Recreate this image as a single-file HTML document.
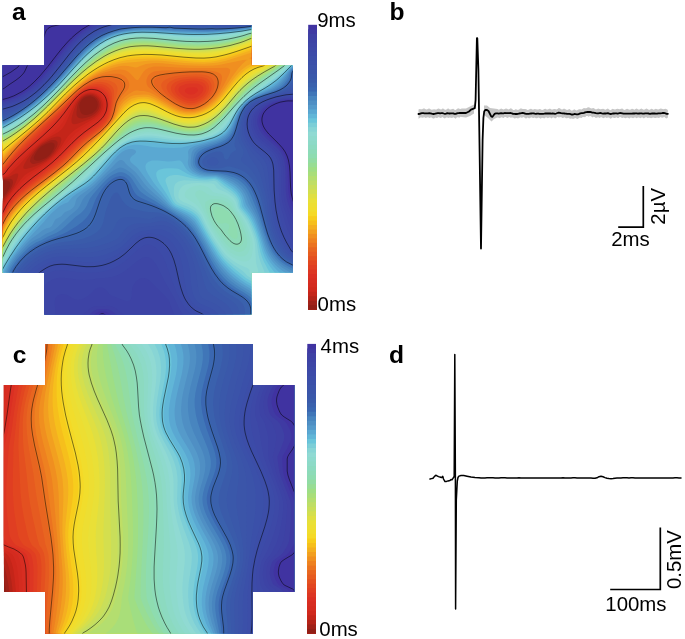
<!DOCTYPE html>
<html><head><meta charset="utf-8"><title>figure</title>
<style>html,body{margin:0;padding:0;background:#fff}svg{display:block}</style></head>
<body>
<svg width="685" height="639" viewBox="0 0 685 639" font-family="'Liberation Sans', Arial, sans-serif">
<clipPath id="ca"><polygon points="44.5,24.9 251.3,24.9 251.3,65.6 292.8,65.6 292.8,272.6 251.3,272.6 251.3,314.2 44.5,314.2 44.5,272.6 2.8,272.6 2.8,65.6 44.5,65.6"/></clipPath>
<g clip-path="url(#ca)">
<polygon points="44.5,24.9 251.3,24.9 251.3,65.6 292.8,65.6 292.8,272.6 251.3,272.6 251.3,314.2 44.5,314.2 44.5,272.6 2.8,272.6 2.8,65.6 44.5,65.6" fill="#911f16"/>
<path d="M0,22 296,22 296,316 0,316 0,202.5 2.7,198 7.1,192 8.3,190 9.3,188 10,186 10.2,184 9.5,182 8,181 6,180.4 4,180.2 2,180.6 0,181.3ZM46,144 42,146.2 40,147.8 37.9,150 36.4,152 34.3,156 33.8,158 34,158.9 34.6,160 36,160.6 38,160.7 40,160.3 44,158.8 46,157.7 48.3,156 50.3,154 51.9,152 54.1,148 54.6,146 54.4,144 54,143.4 52,142.6 50,142.7ZM84,97.9 81.7,100 80.4,102 79.6,104 79.3,106 79.5,108 80.6,112 82,113.9 84,114.8 86,115 88,114.7 90,114.1 92,113.2 93.8,112 96,109.7 97,108 97.6,106 97.7,104 97.3,102 96.3,100 94.6,98 92,96.7 90,96.3 88,96.4 86,96.9Z" fill="#9f2118" fill-rule="evenodd"/>
<path d="M0,22 296,22 296,316 0,316 0,205.6 3,200 10,190 12,186 12.7,184 13,182 12.5,180 12,179.5 10,178.8 4,179 0,179.9ZM54,139.9 52,140 50,140.6 46,142.4 42,144.7 40,146.2 38,148 34.6,152 31.8,156 30.8,158 30.2,160 30.2,162 32,163.7 34,163.9 36,163.6 38,163.1 40,162.4 44,160.5 47.9,158 50.2,156 53.7,152 56.2,148 57.1,146 57.6,144 57.4,142 56,140.4ZM86,95.6 84,96.6 82,98 80.1,100 78.8,102 77.9,104 77.3,106 76.5,112 76.5,114 76.9,116 78,117.4 80,118.3 82,118.4 86,117.8 90,116.5 92,115.5 94,114.2 96.5,112 98.1,110 99,108 99.5,106 99.5,104 99.1,102 98.2,100 96.7,98 94.1,96 92,95.3 90,95 88,95.2Z" fill="#b32318" fill-rule="evenodd"/>
<path d="M0,22 296,22 296,316 0,316 0,208.6 2.2,204 4.5,200 10.3,192 14.1,186 16,182 17.5,178 18.1,176 18.2,174 18,173.7 16,173.5 14,174.3 10.7,176 8,177.1 0,178.9ZM52,137.8 48,139.7 42,143.3 38.5,146 34.5,150 29.5,156 26.7,160 24.4,164 23.6,166 23.3,168 24,168.7 26,168.9 28,168.6 32,167.5 36,166.1 42,163.2 46,160.9 49.8,158 52,156 55.5,152 58.3,148 60.3,144 60.9,142 61.3,140 61,138 60,136.9 58,136.5 56,136.7ZM88,94 86,94.5 84,95.4 82,96.7 80.5,98 78.8,100 77.4,102 76.3,104 73.9,110 72.1,116 71.7,118 71.5,120 71.6,122 72,123.3 73,124 74,124.3 76,124.1 78,123.5 84,121.3 90,118.7 94,116.4 96,114.9 98,113 100.1,110 100.8,108 101.2,106 101.2,104 100.8,102 100,100 98.7,98 96.6,96 94,94.6 92,94 90,93.8Z" fill="#c42519" fill-rule="evenodd"/>
<path d="M0,22 296,22 296,316 0,316 0,211.1 3.5,204 5.9,200 20,180.5 23.9,176 26,174.2 28,172.9 40,166.2 44,163.7 48,161 51.6,158 55.6,154 58.9,150 61.7,146 66,138.9 68,136.2 70,134.1 74,130.6 77.8,128 81,126 92,119.8 94,118.5 97.3,116 99.3,114 100.8,112 102,109.6 102.5,108 102.8,106 102.8,104 102.4,102 101.6,100 100.5,98 98.7,96 96,94.1 94,93.3 92,92.9 90,92.8 88,93 84.7,94 82,95.6 79.3,98 76,102 73.7,106 71.7,110 65.3,124 62.7,128 60.9,130 58.4,132 46,139.1 42,141.9 38,145 32.7,150 20,163.9 9.8,174 7,176 6,176.4 4,177.1 0,177.9Z" fill="#d0281c" fill-rule="evenodd"/>
<path d="M0,22 296,22 296,316 0,316 0,213.1 1.9,210 4.8,204 7.2,200 16,188.6 22,181.7 26,177.8 28.2,176 32,173.3 46,163.9 50,160.9 53.3,158 59.1,152 70,138.9 76,133.1 82.6,128 94,120.6 98,117.5 100,115.6 101.3,114 102.6,112 103.5,110 104,108.2 104.3,106 104.3,104 103.9,102 103.2,100 102.2,98 100.7,96 98,93.8 96,92.8 94,92.1 92,91.8 90,91.7 88,92 86,92.5 84,93.4 82,94.6 80.1,96 78.1,98 74.8,102 72.2,106 62.9,122 60,125.9 58.2,128 53.7,132 42,140.4 35.2,146 28.8,152 14,166.7 10,171 7.6,174 6,175.2 4.5,176 0,177.1Z" fill="#d42b1f" fill-rule="evenodd"/>
<path d="M0,22 296,22 296,316 0,316 0,214.8 2,212 4.8,206 8.5,200 14,193 20,186.3 26,180.6 30,177.3 46,165.6 50,162.5 54,159.1 59.2,154 72,140.2 78.7,134 84,129.7 96,121.3 99.9,118 102,115.6 104.2,112 105,110 105.7,106 105.7,104 105.3,102 104.8,100 103.9,98 102,95.3 100,93.5 98,92.3 96,91.4 94,90.9 92,90.7 90,90.7 88,91 86,91.6 84,92.4 82,93.6 79,96 75.2,100 70.8,106 62,119.2 58,124.4 54.7,128 50.3,132 36,143.7 22.5,156 12,166.4 8.9,170 5.8,174 4,175.2 2,175.8 0,176.2Z" fill="#d72d21" fill-rule="evenodd"/>
<path d="M0,22 296,22 296,316 0,316 0,216.4 3,212 6,205.9 9.8,200 14,194.8 20,188.4 28,181.3 46,167.4 52,162.5 59.2,156 72,143 78,137.3 84,132.2 97.9,122 102,118.1 104,115.4 105.7,112 106.4,110 106.7,108 106.9,104 106.3,100 105.6,98 104.5,96 102.9,94 102,93.1 100,91.7 98,90.7 96,90.1 94,89.7 92,89.5 90,89.7 88,90 86,90.7 84,91.5 82,92.8 78,96 74.2,100 60,118.7 56,123.3 51.5,128 42.9,136 26,150.8 18,158.3 10,166.8 8,169.1 6,172 4.3,174 2,174.9 0,175.3Z" fill="#db2f23" fill-rule="evenodd"/>
<path d="M0,22 296,22 296,316 0,316 0,217.9 4,212 7.1,206 10,201.5 14,196.5 20,190.2 28,183.3 46,169.2 56,160.9 61.4,156 76,141.5 82,136.1 86,132.9 98,124.2 102,120.6 104.1,118 106.3,114 107.6,110 108.1,106 108.2,104 107.7,100 107.2,98 106,95.3 105.2,94 103.3,92 102,91 100,89.9 98,89.1 96,88.6 92,88.4 90,88.6 86,89.8 84,90.7 82,91.9 79.2,94 75.1,98 69.9,104 62,113.8 58,118.2 54,122.3 40.3,136 36.1,140 24,150.8 16,158.5 8,167.4 4,172.7 2,173.9 0,174.3ZM188,87.8 187.2,88 186,88.8 184.8,90 185.2,92 187.8,94 190,94.5 192,94.6 194.4,94 197.1,92 198.1,90 196.8,88 196,87.7 194,87.3 192,87.2Z" fill="#dd3623" fill-rule="evenodd"/>
<path d="M0,22 296,22 296,316 0,316 0,219.5 4,213.6 7,208 10,203.3 14,198.2 20,192 28,185.2 47.5,170 57.1,162 63.6,156 76,143.7 82,138.2 86,135 98,126.4 102,122.8 104,120.6 105.8,118 107.7,114 108.7,110 109.3,104 109.1,100 108.8,98 108.2,96 107.4,94 106,92 104,90 102,88.8 100,88 98,87.4 96,87.1 92,87.2 90,87.5 86,88.9 82,91.1 78.2,94 74.1,98 64,109.7 58,116 45.4,128 33.6,140 24,148.9 18,154.8 10,163.5 4,171 2,172.6 0,173.3ZM188,83.8 186,84.1 182,85.4 180,86.6 178.8,88 178.4,90 179.1,92 180.6,94 184,96.5 186,97.5 188,98.2 190,98.5 192,98.5 194,98.1 196,97.4 198.6,96 200.9,94 202.4,92 203.2,90 203.3,88 202.3,86 200,84.5 198,83.8 196,83.5 192,83.4Z" fill="#e03e22" fill-rule="evenodd"/>
<path d="M0,22 296,22 296,316 0,316 0,221.3 4.6,214 8,208.1 10,205 14,199.9 20,193.7 28,186.8 47.3,172 54.8,166 63.8,158 76,145.7 82,140.1 88,135.4 98,128.2 102,124.8 104,122.7 106,120.2 107.2,118 108.2,116 108.9,114 109.4,112 110.1,108 110.6,102 110.4,98 110.1,96 109.5,94 108.7,92 107.2,90 106,88.8 104,87.4 102,86.5 100,86 98,85.6 94,85.7 90,86.4 88,87.1 84,89 80,91.7 75.2,96 60,112.3 43,128 33.3,138 18,153.1 12,159.6 4,169.3 2,171.2 0,172.1ZM184,81.8 180,83 178,83.9 176,85.7 174.8,88 174.7,90 175.3,92 176.6,94 178,95.4 181.3,98 184,99.5 186,100.3 188,100.8 190,101.1 192,101.1 194,100.8 196,100.2 200,98.1 202,96.5 204.3,94 205.5,92 206.2,90 206.4,88 206,86 204.7,84 204,83.3 202,82.1 200,81.4 198,81 194,80.8 188,81.1Z" fill="#e24620" fill-rule="evenodd"/>
<path d="M0,22 296,22 296,316 0,316 0,223.1 2.9,218 10,206.7 14,201.5 20,195.3 24,191.7 30,186.8 49.5,172 57,166 61.6,162 65.9,158 76,147.6 81.9,142 88,137 98,129.7 102,126.4 104.3,124 106.1,122 108,119 109.4,116 110,114 110.9,110 111.4,106 112,98 111.8,94 111.3,92 110,89.3 109,88 106.5,86 104,84.8 102,84.2 98,83.8 96,83.9 92,84.7 90,85.3 86,87 82,89.5 80,90.9 76.4,94 60,110.9 46,123.5 39.1,130 22,147.3 16,153.6 10,160.4 4,167.8 2,169.7 0,170.9ZM182,79.7 178,80.9 175.5,82 174,83 172.8,84 171.4,86 170.9,88 171.1,90 171.9,92 173.2,94 175,96 177.4,98 180,99.8 184,101.8 188,103 190,103.3 192,103.2 194,102.9 197,102 200,100.5 203.4,98 206,95.3 208,92 208.7,90 209,88 208.9,86 208.2,84 206.8,82 204,80.1 202,79.3 200,78.9 196,78.5 192,78.6 188,78.9Z" fill="#e45020" fill-rule="evenodd"/>
<path d="M0,22 296,22 296,316 0,316 0,225.1 0.6,224 3.9,218 10,208.3 14,203.1 20,196.8 24,193.2 30,188.3 51.6,172 61.3,164 67.8,158 77.4,148 82,143.6 88,138.6 100,129.4 103.8,126 106,123.6 108,120.9 109.7,118 111.1,114 112.6,106 114.1,94 114.1,92 113.8,90 113,88 111.6,86 110,84.7 108,83.5 106,82.7 104,82.2 100,81.8 98,82 94,82.7 92,83.3 88,85 84,87.2 80,90.1 75.5,94 60,109.5 46,122 33.3,134 24,143.5 16,152 10,158.9 4,166.4 2,168.3 0,169.6ZM180,77.8 176,78.8 174,79.5 172,80.4 169.5,82 167.6,84 166.7,86 166.6,88 167.2,90 168.2,92 169.8,94 171.7,96 174,98 176.7,100 180,102 182,103 186,104.5 190,105.2 192,105.1 194,104.8 196.9,104 200,102.6 204,99.9 206.1,98 207.9,96 209.3,94 210.4,92 211.2,90 211.6,88 211.6,86 211.3,84 210.4,82 208.9,80 208,79.3 206,78.1 204,77.4 202,76.9 196,76.4 188,76.7Z" fill="#e65b20" fill-rule="evenodd"/>
<path d="M0,22 296,22 296,316 0,316 0,227.1 2.6,222 4.8,218 10,209.9 14,204.7 20.4,198 24.8,194 30,189.7 53.4,172 60.8,166 67.5,160 78,149.1 82,145.1 86,141.6 100,130.6 104,127 106.8,124 108.3,122 110,119.3 111.5,116 112.2,114 114.5,102 116.8,94 117.5,90 117.5,88 116.9,86 115.5,84 114,82.8 112,81.7 110,80.8 106,79.9 102,79.6 98,80.1 96,80.6 94,81.2 90,82.8 84,86.3 79.1,90 74.5,94 62,106.4 40.3,126 31.8,134 23.8,142 16,150.4 10,157.3 4,165 2,166.9 0,168.2ZM178,75.8 174,76.6 170,77.7 168,78.5 164.9,80 162.5,82 161.4,84 161.2,86 161.8,88 162.8,90 164.2,92 166.1,94 168.2,96 173.4,100 176.4,102 180,104 185,106 188,106.7 190,106.8 194,106.5 198,105.3 202,103.3 204,102 206.4,100 208.5,98 210.2,96 211.6,94 212.8,92 213.6,90 214.1,88 214.4,86 214.3,84 213.8,82 212.9,80 211.3,78 210,77 208.1,76 206,75.3 202,74.6 196,74.3 186,74.8Z" fill="#e86520" fill-rule="evenodd"/>
<path d="M0,22 296,22 296,316 0,316 0,229.2 4.6,220 8.3,214 12,208.7 16,204 22,198 26.5,194 32,189.4 54,172.8 62.4,166 69,160 82.7,146 87.2,142 100,131.7 104,128.1 107.8,124 110.6,120 111.7,118 112.5,116 113.7,112 116,102 118,97.5 122,90 122.9,88 123.4,86 123.2,84 122.1,82 119.4,80 116,78.6 113.8,78 110,77.3 108,77.1 104,77.2 102,77.4 98,78.3 96,78.9 90,81.6 84,85.3 78,90 74,93.6 56.9,110 36,128.9 26.4,138 18.6,146 13.1,152 8.1,158 3.5,164 2,165.5 0,166.8ZM172,74 168,74.5 162,75.8 158,77.1 156.1,78 153.9,80 153.5,82 153.9,84 154.8,86 156.2,88 157.9,90 159.9,92 164.6,96 170.1,100 176,103.8 180,105.9 184,107.4 188,108.2 192,108.3 194,108.1 198,106.9 200,106.1 203.7,104 206.5,102 208.8,100 212.5,96 215.1,92 216.7,88 217.2,86 217.4,84 217.3,82 216.9,80 216.1,78 214.5,76 214,75.6 212,74.3 210,73.5 208,73 204,72.5 200,72.3 194,72.3 182,72.8Z" fill="#eb7320" fill-rule="evenodd"/>
<path d="M0,22 296,22 296,316 0,316 0,231.3 6,219.2 10,212.9 14,207.8 18,203.4 23.5,198 32.9,190 54,174 63.9,166 70.4,160 84.3,146 88.8,142 100,132.7 104,129 108,124.7 111.5,120 113.5,116 114.9,112 116,107.3 118,101.8 120,98.6 122,96 127.3,90 128.6,88 129.2,86 129.2,84 128.8,82 128,80 126,77.4 124,75.7 122,74.7 120,74.1 118,73.8 114,73.7 110,73.9 106,74.5 102,75.3 98,76.5 94,78.1 88,81.5 84,84.2 78,89 51.4,114 27.2,136 21.1,142 15.3,148 8.3,156 4,161.7 2,164 0,165.4ZM154,71.6 152,72.4 149.7,74 148,76 147.1,78 146.5,80 146.4,82 146.7,84 147.6,86 148,86.5 149.4,88 160.8,96 173,104 176.6,106 181.1,108 184,108.9 188,109.6 192,109.7 194,109.4 198,108.3 200,107.6 203.1,106 206,104.2 208.9,102 211.1,100 214.7,96 216.1,94 218.5,90 219.4,88 220.8,84 221.8,80 222,78 221.8,76 220.7,74 220,73.5 218,72.4 216,71.7 212,70.9 208,70.3 200,70.1 162,70.6 158,70.9Z" fill="#ee8120" fill-rule="evenodd"/>
<path d="M0,22 296,22 296,316 0,316 0,233.3 5.5,222 7.8,218 12,211.8 18,204.9 25,198 31.9,192 38,187.1 55.3,174 65.2,166 71.8,160 85.8,146 100,133.6 104,129.9 109.4,124 112.3,120 113.5,118 115.4,114 118,106.2 120,102.4 122,99.8 124,97.8 126,96.1 130,93.2 134,91 136,90.4 138,90.5 140,90.9 144,91.1 146,91.4 150,92.6 154,94.4 173.2,106 177.1,108 180,109.2 184,110.4 188,111 192,111 196,110.3 198,109.7 202,108.1 206,105.9 208.7,104 211.1,102 215.1,98 216.8,96 219.7,92 223.2,86 227.4,78 229.3,74 230,72 230.2,70 230,69.6 228,68.1 226,67.8 216,68 190,67.9 178,67.5 160,66.4 154,66.6 152,66.9 148.4,68 145.2,70 143.3,72 138,80.3 137.5,80 136,79.7 130.7,74 128.5,72 126,70.5 124,69.9 120,69.5 114,70.1 106,72 100,74 94,76.7 88,80.2 82,84.6 77.9,88 72,93.4 50.4,114 21.8,140 12.1,150 6.9,156 2.2,162 0,163.9Z" fill="#f08f20" fill-rule="evenodd"/>
<path d="M0,22 296,22 296,316 0,316 0,235.2 6,223 8,219.3 10,216.2 14,210.9 20.2,204 26.4,198 33.4,192 40.9,186 59.1,172 68.8,164 75.2,158 87.2,146 100,134.5 104.7,130 110,124.2 113.2,120 114.4,118 116.5,114 120,106.2 121.5,104 124,101.1 126,99.4 128,98 130,96.8 132,95.9 134,95.3 136,94.9 144,94.5 148,94.8 150,95.3 154,96.9 158,99 173.5,108 177.9,110 180,110.7 185.3,112 190,112.3 194,111.9 198,111 200.8,110 204,108.5 208,106.1 212,103.1 215.3,100 218.9,96 221.9,92 232,76.9 238,68.8 242,64.3 244,62.4 244.6,62 246,60.5 248.1,60 246,59.7 242.9,60 220,64.7 214,65.4 208,65.7 198,65.8 190,65.6 180,64.9 162,63.3 156,63.1 152,63.2 146,64.1 140.2,66 138,67 136,67.4 134,67.3 128,66 124,65.8 120,66.1 116,66.9 112,67.9 106,69.9 102,71.5 96,74.2 90,77.7 84,81.9 76.6,88 68,96 46,117.3 25,136 16.4,144 8.7,152 2,160.3 0,162.2ZM250,57.8 249.2,58 250,58.7 252,58.7 255.4,58 254,56.9Z" fill="#f29f20" fill-rule="evenodd"/>
<path d="M0,22 296,22 296,316 0,316 0,236.9 6,224.9 10,217.9 12.8,214 16.1,210 23.6,202 28,197.8 34.7,192 60.4,172 70,164 76.5,158 88.6,146 102,133.5 109.3,126 114,120 116.6,116 120,109.8 122.5,106 124,104.3 126,102.4 128,100.9 130,99.6 132,98.6 134,97.9 138,97.1 144,96.7 148,97 150,97.5 154,99 158,101 172,108.9 176,110.8 180,112.2 184,113.1 186,113.4 190,113.5 194,113.2 198.8,112 203.8,110 208,107.7 212,104.8 216,101.3 219.1,98 222.4,94 232,80.8 236,75.8 239.4,72 242,69.5 246,66.4 248,65.2 252,63.5 254,62.9 258,62 260,61.2 261.9,60 263,58 263.1,56 262,54 260,52.7 258,52 256,51.8 254,51.9 250,52.9 238,57.1 226,60.7 218,62.5 214,63.1 204,63.8 194,63.6 184,63 162,60.8 156,60.5 150,60.6 136,62.1 126,62.7 122,63.2 118,64 114,65.1 106,68 98,71.7 94,73.9 90,76.4 84,80.7 77.6,86 66.8,96 46,116.4 36,125.5 21.6,138 15.1,144 7.2,152 2,158.2 0,160.3Z" fill="#f4af20" fill-rule="evenodd"/>
<path d="M0,22 296,22 296,316 0,316 0,238.5 2,235 5.3,228 7.5,224 11.1,218 14,214.1 17.4,210 24.9,202 30,197.3 36.1,192 66.5,168 71.3,164 77.8,158 102,134.5 106.4,130 110.1,126 115,120 122,109.7 124,107.2 126,105.2 130,102.2 132,101 134,100.2 138,99.1 144,98.6 148,99 150,99.5 154,101 158,103 172,110.6 176,112.3 180,113.7 184,114.5 188,114.8 190,114.8 194,114.4 200,112.9 206,110.3 209.9,108 214,104.9 217.1,102 220,99 224,94.3 233.4,82 236.7,78 240,74.4 244,70.7 246,69.2 250,66.8 254,65.1 260,63.6 262,62.8 263.2,62 265,60 266,58 266.2,56 265.6,54 264,52 262,50.8 260,49.9 258,49.6 256,49.5 251.9,50 232,56.7 224,59.1 218,60.4 212,61.4 204,61.9 194,61.7 186,61.1 162,58.8 154,58.4 148,58.4 138,59.1 126,60.3 118,62 111.8,64 106.9,66 102.6,68 95.2,72 88,76.6 80,82.8 71.9,90 66,95.6 45.6,116 36,124.7 20.5,138 11.6,146 5.5,152 0,158.3Z" fill="#f6bf1c" fill-rule="evenodd"/>
<path d="M0,22 296,22 296,316 0,316 0,240 2.3,236 5.2,230 8,224.8 12,218.5 15.3,214 18.7,210 26.3,202 30.5,198 37.4,192 67.7,168 72.5,164 79.1,158 98,139.5 107.2,130 110.9,126 115.9,120 122,112.3 126,107.8 128,106 132,103.3 134.7,102 138,100.9 142,100.4 146,100.5 150,101.3 154,102.9 158,104.8 171.6,112 176,113.8 180,115 184,115.8 190,116 194,115.6 200,114.2 204,112.6 208,110.6 212,108 214.6,106 218,102.9 222,98.6 236,81.2 242,74.8 246,71.5 250,68.8 252,67.8 256,66.2 262,64.6 264,63.5 265.7,62 267.3,60 268.3,58 268.5,56 268.2,54 267,52 264.7,50 262,48.6 260,48 256,47.6 252.9,48 250,48.8 232,54.9 224,57.2 216,59 210,59.8 204,60.2 196,60.1 188,59.6 162,57 154,56.6 146,56.5 138,56.9 128,58 120,59.7 112.9,62 108,64 104,65.9 96,70.3 88,75.5 80,81.8 75.1,86 66,94.5 44.7,116 36,123.9 17,140 10.1,146 5.8,150 0,156.2Z" fill="#f7cd1c" fill-rule="evenodd"/>
<path d="M0,22 296,22 296,316 0,316 0,241.4 3.2,236 6,230.2 8,226.5 10,223.2 13.5,218 19.9,210 27.6,202 31.8,198 38.7,192 68.9,168 80.5,158 90,148.8 102,136.5 111.7,126 124,112.2 128,108.3 132,105.4 134.7,104 138,102.8 142,102.1 146,102.2 150,103.1 154,104.7 172,113.7 176,115.2 180,116.4 184,117.1 190,117.3 196,116.5 202,114.8 206,113 210,110.8 214,108 218,104.5 224,98.1 236,83.3 240,78.9 244,75.1 248,72 252,69.5 256,67.6 262.1,66 264,65.1 265.5,64 267.7,62 269.2,60 270.2,58 270.5,56 270.3,54 269.3,52 267.7,50 266,48.8 264,47.7 262,46.9 258,46.1 256,46 254,46.2 250,47.2 234,52.7 226,55.1 218,57 210,58.2 204,58.6 196,58.5 184,57.6 162,55.5 152,55 144,54.9 138,55.2 130,56 120.6,58 114.4,60 110,61.7 105.1,64 98,67.9 94,70.4 88,74.5 80,80.8 74,86 65.5,94 48,112 40,119.6 30.3,128 6.2,148 4,150 0,154.1Z" fill="#f5d926" fill-rule="evenodd"/>
<path d="M0,22 296,22 296,316 0,316 0,242.8 4,236 8,228.2 10.5,224 14,218.9 17.8,214 21.2,210 24.9,206 30,200.9 35.3,196 42.4,190 70.1,168 81.8,158 90.3,150 96,144.2 120,118.1 124,114.1 128,110.4 132,107.4 136,105.3 140,104.1 144,103.8 146,104 150,104.9 154,106.4 172,115.1 176,116.6 180,117.7 184,118.4 190,118.6 196,117.8 202,116.1 206,114.4 210,112.2 213.3,110 216,107.9 222,102 226,97.4 236,85.1 240,80.7 244,76.9 248,73.7 252,71 254,69.9 256,69 262,67.1 264.5,66 267.2,64 269.4,62 271,60 272,58 272.4,56 272.2,54 271.4,52 270,50 267.7,48 264,46.1 262,45.4 258,44.7 256,44.7 254,44.8 250,45.8 236,50.7 226,53.7 218,55.5 210,56.7 202,57.2 194,57 160.3,54 150,53.5 144,53.5 136,53.9 130,54.6 123,56 116,58.1 108,61.4 104,63.4 99.3,66 90,72 82.2,78 74,85.1 68.7,90 60.6,98 48,111.1 40,118.8 26,130.7 4.5,148 0,152.2Z" fill="#f1dd2c" fill-rule="evenodd"/>
<path d="M0,22 296,22 296,316 0,316 0,244.2 4,237.5 9.1,228 14.4,220 18,215.2 22.4,210 28,204.1 32.2,200 43.6,190 73.8,166 85.5,156 91.8,150 96,145.7 110,129.9 118,121.5 126,113.9 130,110.7 132,109.3 136,107.2 140,105.9 142,105.7 146,105.8 150,106.7 154,108.2 170.9,116 176,117.9 180,119 186,119.9 190,119.9 196,119.2 202,117.5 206,115.8 210,113.6 212.5,112 216,109.3 219.6,106 222,103.5 226,99 236,86.8 240,82.4 244,78.5 248,75.2 252.9,72 256.7,70 264,67.3 266.2,66 268.9,64 271.2,62 272.7,60 273.7,58 274,56 273.9,54 273.2,52 272,50 270,47.9 267,46 264,44.7 260,43.7 256,43.4 254,43.6 251.7,44 238,48.8 226,52.4 218,54.1 210,55.3 202,55.8 194,55.6 184,55 158,52.6 150,52.2 144,52.1 136,52.5 130,53.3 124,54.5 118,56.2 110,59.3 102,63.3 94,68.3 84,75.6 78,80.6 69.9,88 60,97.7 44,114.1 36,121.5 26,129.9 5.2,146 0,150.4Z" fill="#edde32" fill-rule="evenodd"/>
<path d="M0,22 296,22 296,316 0,316 0,245.6 4,238.8 8.8,230 12,224.9 15.5,220 20,214.2 23.7,210 28,205.4 33.5,200 44.9,190 75.1,166 82.3,160 89.2,154 93.4,150 97.3,146 111.1,130 116,124.8 120,120.9 126,115.5 130,112.4 132,111.1 136,109 140,107.8 142,107.5 146,107.6 150,108.5 154,109.9 168,116.1 174,118.5 178,119.8 182,120.7 188,121.3 192,121.2 196,120.6 202,118.9 206,117.2 210,115 214,112.3 216,110.7 219,108 222,105 226,100.5 236.3,88 240,84 244,80.1 248,76.8 254,72.7 258,70.6 264.4,68 270.6,64 272.8,62 274.3,60 275.2,58 275.6,56 275.4,54 274.9,52 274,50.3 272.1,48 270,46.3 266,44.2 264,43.5 260,42.6 256,42.2 252,42.8 240,47 234,49 226,51.2 216,53.2 208,54.2 200,54.5 192,54.3 182,53.6 158,51.4 150,51 144,50.9 136,51.3 130,52 124,53.2 118,55 110,58.2 102,62.3 94,67.3 88,71.6 84,74.7 78,79.7 69,88 60,96.9 44,113.2 36,120.6 30,125.8 22,132.2 3.4,146 0,148.8Z" fill="#e9e037" fill-rule="evenodd"/>
<path d="M0,22 296,22 296,316 0,316 0,246.8 2,243.8 10,229.4 16,220.7 20,215.6 24.9,210 30,204.7 34.8,200 41.5,194 48.6,188 78.9,164 90.6,154 94.9,150 98.8,146 112,130.5 116.2,126 120.3,122 126,117 132,112.8 136,110.8 140,109.6 142,109.3 146,109.5 150,110.3 154,111.6 172,119.1 178,121.1 182,122 188,122.7 192,122.6 196,122 202,120.3 206,118.5 210,116.4 214,113.7 218,110.4 224,104.3 238,87.5 242,83.4 248,78.2 252,75.3 256,72.8 266,68 272.3,64 274.4,62 275.8,60 276.6,58 277,56 276.9,54 276.4,52 275.5,50 274,48 271.8,46 268.5,44 264,42.3 260,41.5 256,41.2 254,41.3 250.7,42 244,44.6 238,46.6 228,49.5 220,51.3 210,52.7 202,53.2 192,53.1 182,52.5 156,50.1 144,49.7 136,50.1 130,50.8 124,52 118,53.8 110,57.1 102,61.2 94,66.3 86,72.2 78,78.9 70,86.3 64,92.1 44,112.4 34,121.5 26,128.2 20,132.9 12,138.7 4.4,144 0,147.3Z" fill="#dfdf42" fill-rule="evenodd"/>
<path d="M0,22 296,22 296,316 0,316 0,248 2,245.1 10,230.8 16,222.1 20.9,216 26,210.1 30,205.9 36,200.1 42.8,194 49.9,188 80.2,164 92,154.1 96,150.4 100.3,146 112.1,132 117.7,126 122,121.9 126,118.6 130,115.6 132,114.4 136,112.5 140,111.4 142,111.2 146,111.3 150,112 154,113.2 172,120.3 178,122.3 182,123.3 188,124 192,124 196,123.4 202,121.7 206,119.9 210,117.7 214,115 218,111.7 224,105.7 235.4,92 238.9,88 244,83 248,79.6 252,76.7 256.1,74 266,68.9 274,64 275.9,62 277.2,60 278,58 278.4,56 278.3,54 278,52.5 277,50 275.7,48 273.7,46 272,44.7 270,43.5 266,41.8 260,40.5 256,40.2 252,40.6 250,41.2 240,45 234,46.8 228,48.4 218,50.5 210,51.5 200,52 190,51.9 180,51.2 158,49.2 150,48.7 144,48.6 138,48.8 132,49.3 126,50.4 120,52 112,55 104,59 96,64 88,69.8 80,76.3 72,83.6 64,91.3 44,111.5 34,120.7 26,127.4 18,133.5 0,145.9Z" fill="#d4df4e" fill-rule="evenodd"/>
<path d="M0,22 296,22 296,316 0,316 0,249.2 2.3,246 10,232.2 16,223.5 20.3,218 25.5,212 30,207.2 36,201.4 44,194.1 48.8,190 58.7,182 81.5,164 91.2,156 95.7,152 99.8,148 103.5,144 113.7,132 119.3,126 126,120.1 130,117.2 132,116 136,114.2 138,113.6 142,113 146,113.1 150,113.7 154,114.8 160,116.9 174,122.3 180,124.1 184,124.9 190,125.4 194,125.1 198,124.4 202,123.1 206,121.3 210,119.1 214,116.3 219.1,112 224.9,106 236,92.7 240,88.3 244,84.4 248,81 252,78 256,75.3 272.6,66 275.5,64 277.3,62 278.5,60 279.3,58 279.7,56 279.7,54 279.3,52 278.5,50 277.3,48 276,46.5 273,44 269.3,42 266,40.8 262,39.8 256,39.2 254,39.3 250.5,40 244,42.6 240,44 234,45.8 228,47.4 218,49.4 208,50.5 198,50.9 188,50.7 180,50.1 158,48.1 152,47.6 144,47.4 138,47.6 132,48.2 126,49.2 120,50.9 112,53.9 104,58 96,63 88,68.8 80,75.5 72,82.8 64,90.6 44,110.7 34,119.9 26,126.6 20,131.2 12,136.8 0,144.6Z" fill="#c9de5a" fill-rule="evenodd"/>
<path d="M0,22 296,22 296,316 0,316 0,250.5 3,246 6.2,240 10,233.5 14,227.5 18,222.2 22,217.3 28,210.6 32,206.5 38.8,200 50.3,190 60.1,182 82,164.7 92.4,156 101.1,148 104.9,144 116,131.3 121.1,126 126,121.7 128,120.1 131.3,118 134,116.7 138,115.3 142,114.8 146,114.8 150,115.4 154,116.4 160,118.4 174,123.5 180,125.3 184,126.1 190,126.7 194,126.5 198,125.7 203.1,124 208,121.6 212,119 216,116 220,112.5 226,106.1 236,94.1 240,89.7 244,85.8 248,82.4 252,79.3 256.8,76 263.5,72 274,66.2 276,64.7 278.6,62 279.8,60 280.6,58 280.9,56 280.9,54 280.6,52 279.9,50 278,47 277.2,46 274.9,44 271.7,42 266.6,40 262,39 256,38.4 252,38.7 250,39.2 244,41.7 240,43.1 234,44.9 228,46.4 218,48.3 208,49.4 198,49.8 188,49.6 180,49.1 158,46.9 146,46.3 140,46.3 134,46.7 128,47.6 122,49.1 118,50.4 114,51.9 106,55.8 98,60.6 92,64.8 88,67.9 82,72.9 74,80.1 64,89.9 48,106 39.7,114 34,119.1 26,125.8 16,133.2 10,137.2 0,143.3Z" fill="#bfde65" fill-rule="evenodd"/>
<path d="M0,22 296,22 296,316 0,316 0,251.8 3.7,246 6.9,240 10,234.7 16,226.1 20,221 26,214.1 36,204 44.8,196 54.2,188 84,164.1 96,153.9 102,148.3 106.2,144 116,133.1 122,126.9 126,123.4 130,120.5 134,118.3 138,117.1 142,116.5 146,116.6 150,117.1 154,118 160,119.8 176,125.4 182,126.9 186,127.6 190,127.9 192,127.9 196,127.5 200,126.5 204,125 208,122.9 212,120.3 216,117.3 220,113.7 226,107.4 240,91.2 244,87.3 248,83.8 252.9,80 258.7,76 265.2,72 275.8,66 278.1,64 279.8,62 281,60 281.8,58 282.1,56 282.2,54 281.9,52 281.2,50 280,47.7 278.7,46 276.7,44 274,42.1 270,40.1 266,38.9 261.5,38 256,37.5 252,37.8 250,38.3 244,40.8 240,42.1 234,43.9 228,45.4 218,47.2 208,48.3 198,48.7 188,48.5 180,48 154,45.5 148,45.2 142,45.1 136,45.4 130,46.1 124,47.3 120,48.5 112,51.6 106,54.7 98,59.6 90,65.4 82,72 74,79.3 66,87.2 47.3,106 38.9,114 34,118.4 24,126.6 16,132.4 10,136.3 0,142.1Z" fill="#b4de6f" fill-rule="evenodd"/>
<path d="M0,22 296,22 296,316 0,316 0,253.1 4,246.8 6.5,242 10,236 12,232.8 16,227.2 20,222.2 26,215.3 32,209.2 38,203.5 46,196.4 55.9,188 82,166.8 92.5,158 103.4,148 122,128.8 126,125.2 130,122.3 134,120.1 138,118.9 142,118.3 146,118.3 150,118.7 156,120 176,126.6 182,128.1 186,128.8 192,129.1 196,128.7 200,127.8 204,126.3 208,124.2 212,121.6 216,118.5 220,114.9 226.7,108 240.8,92 244.8,88 249.5,84 254.7,80 260.5,76 266.9,72 276,66.8 279.4,64 281.1,62 282.2,60 282.9,58 283.3,56 283.3,54 283.1,52 282.5,50 281.5,48 280.2,46 278.4,44 275.8,42 272,39.9 266,38 262,37.3 256,36.8 252,37 250,37.5 244,39.9 240,41.2 234,43 228,44.5 218,46.2 208,47.2 198,47.6 186,47.3 178,46.7 154,44.4 144,43.9 138,44.1 132,44.6 128,45.2 122,46.6 116,48.7 112,50.4 108,52.4 100,57.1 92,62.8 84,69.4 76,76.7 68,84.4 46.6,106 34,117.7 24,125.8 16,131.5 10,135.4 0,141Z" fill="#a9de79" fill-rule="evenodd"/>
<path d="M0,22 296,22 296,316 0,316 0,254.5 4,247.9 7.1,242 10,237.1 16,228.4 20,223.4 24,218.8 30,212.5 36,206.7 48,196.1 93.5,158 102.4,150 122,130.7 126,127.2 130,124.2 134,122 138,120.7 142,120.1 146,120 150,120.3 156,121.5 176,127.8 182,129.2 186,129.9 192,130.3 196,130 200,129.1 204,127.6 208,125.5 212,122.9 216,119.7 220,116.1 226,110 238,96.5 242,92.3 246,88.4 250,85 256,80.3 262.2,76 268.6,72 276,67.7 278.4,66 280.6,64 282.3,62 283.4,60 284.1,58 284.4,56 284.5,54 284,51 282.9,48 281.6,46 280,44.1 277.6,42 274,39.8 269.4,38 264,36.8 258,36.1 254,36 252,36.2 250,36.7 244,39 240,40.4 234,42.1 228,43.5 218,45.2 208,46.2 198,46.6 186,46.3 178,45.7 154,43.3 144,42.8 138,42.9 132,43.4 127.8,44 122,45.4 116,47.5 112,49.2 108,51.2 100,56 92,61.8 86,66.7 78,73.9 68,83.7 46,105.9 34,117 24,125.1 16,130.8 10,134.5 0,140Z" fill="#9fde84" fill-rule="evenodd"/>
<path d="M0,22 296,22 296,316 0,316 0,255.9 2,252.7 10,238.3 16,229.6 20,224.6 26,217.8 30,213.7 36,208.1 44,201 60,187.6 94,158.5 103.4,150 118,136.2 124,130.8 130,126.2 134,124 138,122.6 142,121.9 146,121.7 150,122 154,122.6 158,123.6 172.6,128 180,129.9 186,131 190,131.3 196,131.1 200,130.3 204,128.9 208,126.9 214,122.7 220,117.4 226,111.2 242,93.8 246,89.9 250,86.3 255.5,82 261,78 267,74 276,68.6 279.6,66 281.8,64 283.4,62 284.5,60 285.2,58 285.5,56 285.6,54 285.4,52 284.9,50 284.1,48 283,46 281.4,44 279.3,42 278,41 274,38.8 270,37.3 264.2,36 258,35.4 254,35.3 252,35.5 250,35.9 240,39.5 234,41.2 228,42.5 218,44.2 208,45.2 198,45.5 186,45.2 176,44.4 154,42.1 144,41.6 138,41.7 132,42.2 126,43.2 122,44.2 116,46.3 112,48 108,50 100,54.9 92,60.7 86,65.7 78,73.1 72,78.9 47.3,104 42,109.1 34,116.3 24,124.4 18,128.6 10,133.6 0,138.9Z" fill="#98dd94" fill-rule="evenodd"/>
<path d="M0,22 296,22 296,316 0,316 0,257.3 2,254.2 8,242.9 10,239.5 13.6,234 16,230.8 20,225.8 26,219.1 30,215 36,209.4 46,200.7 62,187.4 86,166.6 100,154.1 114,141.2 122,134.2 128,129.5 132,127 134,126 138,124.5 142,123.7 146,123.4 150,123.6 154,124.1 158,125 172,129.1 178,130.6 184,131.8 190,132.4 196,132.2 200,131.5 204,130.2 208.3,128 214,124 220,118.7 226,112.5 242,95.2 246,91.3 250,87.7 254.6,84 259.9,80 265.6,76 278,68.1 280.8,66 283,64 284.5,62 285.6,60 286.2,58 286.6,56 286.7,54 286.5,52 286.1,50 285.3,48 284.3,46 282,43.1 280.9,42 278.3,40 274.5,38 270,36.4 266,35.5 260,34.8 256,34.6 252,34.8 250,35.2 240,38.6 230,41.2 220,42.9 208,44.1 198,44.4 186,44.1 176,43.3 156,41.2 144,40.5 138,40.6 132,41.1 126,42 122,43 118,44.3 114,45.9 108,48.9 100,53.8 94,58.1 86,64.8 78,72.2 50,100.7 42,108.5 34,115.7 24,123.7 18,127.9 10,132.8 0,137.9Z" fill="#92dca3" fill-rule="evenodd"/>
<path d="M0,22 296,22 296,316 0,316 0,258.7 2,255.8 8,244.2 10,240.8 12,237.6 16,232 20,227 26,220.3 30,216.3 36,210.7 42,205.4 58,192.2 67.7,184 86,167.7 108,147.7 118,139 124,134.2 128,131.4 132,129 134,128 138,126.4 142,125.5 146,125.1 150,125.2 154,125.7 158,126.5 172,130.3 180,132.2 186,133.1 192,133.5 198,133 202,132.1 206,130.5 210,128.2 214,125.3 220,120 226,113.8 240,98.5 246,92.6 250,89 254,85.7 260,81.2 267.3,76 278,69 282.1,66 284,64.2 285.6,62 286.6,60 287.2,58 287.6,56 287.7,54 287.6,52 287.2,50 286.5,48 285.6,46 284.2,44 282.4,42 280,40 276,37.7 271.6,36 266,34.8 260,34.1 256,33.9 252,34.1 250,34.5 240,37.8 234,39.3 228,40.6 218,42.2 208,43.1 198,43.4 186,43 178,42.4 154.2,40 144,39.5 138,39.5 132,40 126,40.9 121.6,42 115.8,44 112,45.7 108,47.7 104,50 100,52.6 94,57.1 86,63.8 80,69.4 72,77.4 50,100.1 42,107.8 34,115 24,122.9 18,127.1 9.9,132 0,137Z" fill="#8edcb0" fill-rule="evenodd"/>
<path d="M0,22 296,22 296,316 0,316 0,260.1 2.8,256 5.7,250 10,242.1 15.4,234 20,228.2 24,223.6 28,219.5 34,213.7 42,206.7 62.3,190 71.6,182 104,152.4 114,143.5 120,138.6 124,135.7 128,133 132,130.8 136,129 140,127.7 144,127 146,126.8 150,126.8 154,127.3 158,128 172,131.6 180,133.3 186,134.2 192,134.5 198,134.1 202,133.2 206,131.7 210,129.5 214,126.7 220,121.4 224,117.3 234.1,106 239.7,100 244,95.7 250,90.3 254,86.9 260,82.4 278,69.9 284,65.3 286,63 287.6,60 288.2,58 288.8,54 288.7,52 288.3,50 287.7,48 286.8,46 285.5,44 284,42.1 281.7,40 278,37.6 274,35.9 268,34.3 262,33.6 256,33.3 252,33.5 249.3,34 244,35.8 240,36.9 228,39.6 216,41.4 208,42 198,42.3 186,42 178,41.4 156,39.1 144,38.5 138,38.5 132,39 126,39.9 122,40.9 118.3,42 114,43.7 108,46.6 104,48.9 100,51.6 94,56 86,62.8 80,68.5 72,76.6 50,99.4 42,107.2 34,114.3 24,122.2 18,126.3 14,128.8 8,132.2 0,136ZM214,207.2 213.4,208 213,210 213.1,212 214,216 216,219.9 218,222.3 220,223.6 222,223.8 224,223.2 226,222.9 228,223.7 228.4,224 229.3,226 229,228 228.3,230 228.1,232 228.9,234 230.3,236 232,237.7 234,238.8 236,239 237.1,238 237.8,236 237.7,234 237.3,232 236,226.8 234,220.6 232.8,218 231.7,216 230,213.6 228,211.6 225.9,210 222.5,208 220,207 218,206.4 216,206.3Z" fill="#8ddbb8" fill-rule="evenodd"/>
<path d="M0,22 296,22 296,316 0,316 0,261.5 3.7,256 6,250.9 10,243.5 12,240.2 16,234.5 20,229.4 24,224.9 28.7,220 35.1,214 46.6,204 63.8,190 73.2,182 103.3,154 114,144.6 120,139.9 124,137 128,134.5 132,132.4 136,130.7 142,129 146,128.5 150,128.5 154,128.8 158,129.6 172,132.9 180,134.4 186,135.2 192,135.5 198,135 202,134.2 204,133.6 207.9,132 211.4,130 216,126.6 220,123 224,118.8 236.9,104 244,96.8 248,93.1 258,85.1 278,70.9 284.4,66 286.3,64 287.6,62 288.6,60 289.2,58 289.8,54 289.4,50 288.8,48 288,46 286,42.9 283.3,40 280,37.7 276,35.7 270,33.9 264,33.1 258,32.8 252,32.9 250,33.2 244,35 238,36.6 228,38.6 216,40.3 204,41.1 196,41.2 186,40.9 178,40.3 154.1,38 144,37.5 138,37.6 132,38 126,38.9 121.5,40 115.5,42 108,45.5 104,47.9 100,50.5 94,55 86,61.9 80,67.6 50.8,98 46,102.7 38,110.1 28,118.4 23.1,122 18,125.4 13.9,128 8,131.3 0,135.1ZM216,202 214,202.1 212,202.7 209.9,204 208.9,206 208.7,208 209,210 210,213.9 212,219.3 214,223.1 218,229 222,234.2 226,239.1 230,243.3 232,244.9 233.8,246 236,246.8 238,246.9 240,246.5 242,245 242.6,244 243.4,242 243.6,240 243.5,238 242.2,232 240.2,226 238.5,222 236.5,218 232,211.3 230,208.8 228,206.8 226,205.3 223.7,204 220,202.7Z" fill="#8cdac0" fill-rule="evenodd"/>
<path d="M0,22 296,22 296,316 0,316 0,262.9 3.4,258 4.6,256 6.4,252 10,245 12,241.7 16,235.9 20,230.8 26,224.1 32.1,218 38,212.6 48,204 74.8,182 84,173.6 100.2,158 114,145.7 122,139.6 126,137 130,134.9 134,133.1 140,131.2 146,130.2 150,130.1 154,130.5 158,131.1 172,134.2 180,135.6 188,136.4 194,136.4 198.1,136 204,134.6 208,133.1 212,131 216.2,128 220.7,124 224.4,120 234.3,108 237.9,104 242,99.7 248,94.2 252,90.9 258,86.3 276,73.3 283.1,68 285.5,66 287.3,64 288.6,62 289.5,60 290.2,58 290.8,54 290.5,50 290,48 289.2,46 288.1,44 286.7,42 284,39.3 282.3,38 280,36.6 276,34.8 273.6,34 270,33.1 264,32.4 258,32.1 252,32.3 250,32.6 240,35.3 228,37.6 216,39.2 208,39.8 198,40.1 186,39.8 178,39.2 156,37.2 148,36.8 142,36.6 136,36.8 130,37.4 126,38 120,39.5 114,41.6 108,44.5 102,48.1 94,54 88,59.1 80,66.7 54,94.1 46,102 37.2,110 28,117.6 18,124.5 8,130.3 0,134.1ZM210,199.6 208,200.2 205.7,202 205.1,204 205.1,206 205.5,208 206.8,212 210,220.2 212,224.3 216,230.8 220,236.4 226,243.9 230,248 232,249.5 234,250.6 236,251.5 238,251.9 240,252 242,251.6 244,250.4 246,247.8 246.7,246 247.1,244 247.2,242 247.1,240 246,234.6 243.7,228 241.1,222 238.8,218 234.7,212 232,207.4 230,204.5 228,202.7 226,201.4 224,200.5 220,199.4 216,199 214,199Z" fill="#8ddac7" fill-rule="evenodd"/>
<path d="M0,22 296,22 296,316 0,316 0,264.5 4.4,258 10,246.7 12,243.4 16,237.5 20.2,232 25.5,226 31.4,220 38,213.8 49.3,204 78.8,180 86,173.3 101.5,158 112.6,148 118,143.6 122,140.8 126,138.3 130,136.2 134,134.6 140,132.8 146,131.9 150,131.8 156,132.4 172,135.5 180,136.8 188,137.4 194,137.3 198,136.9 204,135.7 208.6,134 214,131.1 218.3,128 222,124.5 226,119.9 236.9,106 240.6,102 246,96.9 254,90.4 278,72.9 284,68.3 286.5,66 288.3,64 289.6,62 290.5,60 291.1,58 291.8,54 291.5,50 291.1,48 290,45.3 288,42 286.3,40 284,38 280,35.5 276,33.9 272,32.8 266,31.8 260,31.6 252,31.8 250,32.1 244,33.6 238,34.9 226,36.9 214,38.2 204,38.9 196,39 186,38.8 156,36.3 144,35.8 138,35.9 132,36.3 126,37.2 122,38 115.7,40 112,41.5 108,43.5 102,47.1 96,51.4 90,56.3 84,61.9 76,69.9 54,93.3 46,101.2 36.3,110 28,116.7 18,123.6 8,129.4 0,133.2ZM196,191.9 195.1,194 195.6,196 198,199.5 200,203 204,211.3 210,224.6 212,228.3 216,234.6 224,245.6 227.9,250 230,251.9 233.1,254 236,255.5 238,256.1 240,256.5 242,256.6 244,256.3 246,255.3 248,253.1 249.3,250 249.8,248 250.1,246 250.2,242 249.5,238 247.6,232 244.3,224 240.9,218 235.4,210 232,203 230,200.8 228,199.3 226,198.2 224,197.4 220,196.5 212,195.7 210,195.3 207.2,194 204,191.7 202,190.7 200,190.2 198,190.6Z" fill="#8edacd" fill-rule="evenodd"/>
<path d="M0,22 296,22 296,316 0,316 0,266.2 5.3,258 8.2,252 12,245.2 14,242 18,236.5 23.3,230 28.8,224 34.8,218 41.3,212 54,201.2 75.8,184 82.9,178 88,173.2 103,158 114,148 118,144.8 122,141.9 128,138.5 132,136.8 138,134.9 144,133.8 148,133.6 152,133.7 156,134.1 170,136.6 178,137.7 186,138.4 194,138.3 200,137.6 204,136.6 210,134.5 215,132 217.9,130 220,128.3 224,124.3 228,119.3 236.2,108 239.6,104 244,99.5 250,94.4 254,91.4 274,77 284,69.2 287.5,66 289.3,64 290.5,62 291.4,60 292.5,56 292.8,52 292.2,48 291.5,46 290.6,44 289.3,42 288,40.4 285.5,38 282,35.6 278,33.7 272,32 266,31.2 260,31 252,31.3 247.7,32 242,33.4 230,35.4 218,36.9 206,37.7 196,37.9 186,37.7 156,35.5 148,35.1 142,35 136,35.2 130,35.7 124,36.7 120,37.7 114,39.8 108,42.5 102,46.1 96,50.4 90,55.4 84,60.9 76,69.1 60.4,86 54,92.6 46,100.5 36,109.4 28,115.7 22,120 18,122.6 8,128.4 4,130.4 0,132.2ZM196,185.7 194,186.2 190,187.7 186.8,190 185.4,192 184.7,194 184.9,196 186,197.7 189.1,200 194,202.9 196,204.6 198,206.7 200,209.2 203,214 208,224.6 212.1,232 216,238 222,246.6 226,251.7 228,253.7 230,255.4 234,258.1 238,260.1 240,260.8 242,261.2 244,261.5 246,261.4 248,260.8 249.2,260 250,259.2 250.8,258 251.6,256 252.5,252 252.8,248 252.8,244 252.3,240 251.8,238 249.7,232 246.3,224 242.8,218 237.1,210 236.1,208 234.9,204 234,201.9 232,199.4 230,197.7 228,196.4 226,195.3 222,193.9 216,192.9 214,192.4 213.1,192 212,191.1 209.1,188 208,187.3 204.5,186 202,185.5 200,185.3Z" fill="#90dad3" fill-rule="evenodd"/>
<path d="M0,22 296,22 296,316 0,316 0,268.1 6.3,258 12,247.2 16,241.1 19.8,236 24.8,230 30.2,224 36.2,218 44.9,210 59.2,198 77.7,184 85,178 90,173.2 100.7,162 106.6,156 115.4,148 118,145.9 122,143.1 124,141.8 128,139.7 132,138.1 138,136.5 142,135.8 148,135.4 152,135.6 156,136 170,138.2 178,139.1 186,139.5 194,139.3 200,138.5 206,137.1 212,134.9 217.5,132 220.2,130 224.3,126 228,121.3 237,108 240.4,104 244,100.3 250,95.3 269,82 274,78.3 284,70.1 288.5,66 290.2,64 292.3,60 293.5,56 293.8,52 293.3,48 292.6,46 291.8,44 290.6,42 289,40 286,37.1 282,34.5 278,32.8 274,31.6 268,30.6 260,30.4 252,30.8 242,32.7 230,34.5 218,35.9 206,36.7 196,37 188,36.8 178,36.3 154,34.5 142,34.2 136,34.4 130,35 124,35.9 120,36.9 114,38.9 108,41.6 102,45.1 96,49.4 90,54.4 84,60 76,68.2 60,85.6 54,91.8 46,99.6 36,108.5 26.2,116 18,121.5 6.9,128 0,131.2ZM188,183.9 186,184.4 184,185.2 182.7,186 180.7,188 179.5,190 178.8,192 178.4,194 178.4,196 178.8,198 180,200 183.3,202 190,204.7 194,207.1 196,208.6 198,210.6 200,212.9 202.1,216 207.9,228 212,235.1 218,244.3 222,250.1 224,252.7 227,256 232,260.1 236,262.8 240,264.9 247.3,268 248,268.4 249.6,270 249.5,272 250,272.9 250.7,274 252,274.8 254,275 256,274.6 256.9,274 258.1,272 258.1,270 256.8,266 256,262 255,244 254.4,240 253.8,238 251.7,232 248.3,224 244.8,218 240,211.8 238,208.8 237,206 236.1,202 234,198.6 232,196.5 228,193.6 224,191.5 218,188.9 216.7,188 215.7,186 214,183.9 212,183.5 206,183.5 200,182.9 198,182.9 192,183.3Z" fill="#88d5d5" fill-rule="evenodd"/>
<path d="M0,22 296,22 296,316 0,316 0,270.3 2.4,266 7.3,258 12,249.5 16,243.3 20,237.8 26,230.4 31.8,224 37.7,218 46.3,210 55.6,202 60.6,198 66,193.8 79.8,184 85,180 91.4,174 106.3,158 114.6,150 119.5,146 122,144.3 126,141.9 128,141 132,139.5 136,138.5 140,137.8 146,137.4 150,137.4 154,137.8 168,139.6 176,140.4 186,140.8 192,140.5 200,139.5 206,138.1 212.3,136 218,133.2 222,130.3 224,128.4 226,126.1 230,120.4 235,112 237.8,108 241.1,104 244,101.1 246,99.3 252,94.6 265,86 274,79.6 284,71.2 289.5,66 291.1,64 293.2,60 294.4,56 294.8,52 294.3,48 293,44 291.8,42 290.4,40 288,37.5 286.2,36 284,34.6 280,32.6 278,31.9 274,30.8 268,29.9 260,29.8 252,30.3 242,32 230,33.7 218,35 206,35.8 196,36 188,35.9 176,35.3 154,33.7 142,33.4 136,33.6 130,34.2 124,35.2 120,36.1 114,38 108,40.7 102,44.1 96,48.4 90,53.4 84,59 78,65.2 64,80.5 56,89 48,96.9 40,104.2 32,110.7 22,117.9 16,121.8 10,125.3 4,128.5 0,130.3ZM178,181.7 176,183.2 175.3,184 174.4,186 174,188 173.8,192 173.9,194 174.2,196 174.8,198 175.7,200 177.2,202 178,202.6 180.4,204 188,206.8 192,208.9 196,211.8 198,213.7 200,216.1 201.1,218 206.1,228 212,238.2 220,250.6 224,256 226,258.1 230,261.7 234,264.9 242,270.5 244,272.2 247.7,276 250,277.6 252,278.5 254,279.1 256,279.4 258,279.4 260,279.1 262.5,278 264.1,276 264.5,274 264.4,272 263.8,270 260.5,262 259.3,258 258.4,254 256.6,242 256,239.3 254.9,236 251,226 248,220 245.3,216 240.4,210 239.1,208 238.5,206 237.8,202 237.1,200 236,198.1 234.4,196 232,193.7 230,192.2 222,187 220,185.3 217,182 216,181.3 214,180.7 208,181.4 206,181.4 188,180.4 184,180.3 180,181Z" fill="#7cced7" fill-rule="evenodd"/>
<path d="M0,22 296,22 296,316 0,316 0,272.8 3.5,266 10,255.1 14,248.6 20.1,240 26,232.6 33.5,224 41.4,216 47.8,210 52.3,206 62,198.1 70.3,192 84,182.8 87.5,180 90,177.8 93.9,174 108.1,158 114,152 116.2,150 120,147 122,145.6 126,143.3 130,141.6 134,140.6 138,139.9 144,139.5 152,139.8 166,141.5 174,142.1 182,142.2 192,141.7 198,140.9 206,139.2 214,136.6 219.3,134 222.2,132 224,130.4 226.1,128 230,122.5 234.7,114 237.1,110 240.1,106 244,101.9 250,96.8 256,92.8 266.9,86 274,81 280,76 290.4,66 292,64 294.1,60 295.4,56 295.8,52 295.4,48 294.1,44 293.1,42 291.7,40 290,38 288,36.2 284,33.5 280,31.7 276,30.4 270,29.4 266,29.1 262,29.1 254,29.6 250,30 242,31.5 230,33 218,34.2 206,34.9 196,35.1 188,35 176,34.4 154,32.9 144,32.7 136,32.9 130,33.5 124,34.4 120,35.3 114,37.2 108,39.7 102,43.2 96,47.4 90,52.4 84,58 78,64.2 60.1,84 56,88.2 48,96.1 40,103.3 31.7,110 22,116.9 16,120.8 6,126.6 0,129.3ZM170,175.8 168,176.7 166.3,178 165.5,180 165.7,182 170.8,196 172.6,200 173.9,202 175.7,204 178,205.3 188,209.4 192,211.5 195.3,214 198,216.7 200,219.7 206,231.1 212,241.3 220,253.8 224,258.9 228,263 234,268.2 245.9,278 250,280.6 252,281.5 256,282.7 260,283.4 262,283.6 266,283.4 268,282.8 269.4,282 270.9,280 271.2,278 270.9,276 269.4,272 264,262 262,257.3 260.4,252 257.8,240 256,234.2 254,228.9 250.9,222 248.7,218 246,214.3 240.8,208 240,206 239.4,202 238.9,200 238,197.9 236.8,196 235.2,194 232,191.1 224,185.5 218,180.6 216,179.5 214,179.1 206,179.8 200,179.4 192,178.2 182,175.7 178,175.1 174,175.1Z" fill="#6ac5da" fill-rule="evenodd"/>
<path d="M0,22 296,22 296,45.9 294.3,42 292,38.7 289.3,36 286,33.6 282,31.5 278,30.1 274,29.2 268,28.5 262,28.5 256,28.9 250,29.6 242,30.9 230,32.4 218,33.5 212,33.8 200,34.2 188,34.1 176,33.6 154,32.2 142,32 136,32.2 130,32.7 124,33.6 118,35.1 112,37.1 106,39.9 100,43.5 94,47.9 88,53.1 82,59 74,67.5 60,83.1 55.4,88 48,95.2 40,102.3 30,110.3 20,117.3 16,119.8 6,125.6 0,128.4ZM295.8,58 296,57.3 296,316 0,316 0,275.9 2.6,270 5.9,264 12,254.1 18,245.4 24,237.5 31.9,228 39.3,220 47.3,212 56.4,204 66.8,196 72.6,192 85.2,184 90.3,180 94.5,176 98.2,172 112,156 115.9,152 118,150.2 120.7,148 123.7,146 127.8,144 132,142.8 136,142.1 140,141.9 145.2,142 162,143.7 170,144.2 176,144.4 182,144.2 192,143.1 204,140.8 212,138.6 218.4,136 221.7,134 224,132.2 226,130.2 228,127.7 230,124.6 232,121 236.7,112 239.3,108 242.6,104 246,100.7 250,97.5 256,93.6 270,85.4 276,81.1 282,75.5 291.3,66 292.9,64 294.1,62ZM160,169.4 158,170.4 156.6,172 156.2,174 156.4,176 157,178 157.7,180 159.9,184 165.3,192 171.4,202 173,204 175.3,206 178,207.3 186,210.7 190,212.8 194,215.6 196.5,218 198,220 199.2,222 208,237.7 218,254.1 222,259.6 228,266 234,271.5 242,278.1 244.6,280 247.7,282 252,284.2 256,285.7 262,287.7 268,289.2 272,289.9 274,290.1 276,289.9 278,289.4 279.9,288 280.9,286 281,284 280.6,282 279.8,280 277.2,276 270,266.4 267.1,262 264.9,258 262.6,252 258.2,236 256,229.9 253.6,224 251.7,220 249.4,216 247.9,214 243,208 242,206.2 240.7,200 240,198 238,194.4 236,192 232,188.5 219.9,180 216,178.2 214,177.9 208,178.4 204,178.3 200,177.9 196,177.1 192.3,176 190,175.1 187.7,174 180,169.6 178,168.8 176,168.4 172,168.2 168,168.3 164,168.6Z" fill="#61b6d7" fill-rule="evenodd"/>
<path d="M0,22 296,22 296,43 294.3,40 292,37.1 288.4,34 285.1,32 282,30.6 278,29.3 274,28.4 268,27.8 264,27.8 258,28.2 236,31.1 224,32.3 212,33.1 200,33.4 188,33.3 176,32.8 154,31.4 142,31.3 136,31.5 130,32 124,32.9 118,34.3 112,36.2 106,38.9 100,42.5 94,46.9 88,52 82,57.9 74,66.5 62,80 54.5,88 46.1,96 40,101.4 30,109.4 20,116.4 16,118.9 6,124.7 0,127.4ZM296,60 296,316 0,316 0,279.5 3.9,270 6,266 10,259.3 14,253.4 22,242.8 28,235.5 38,224 45.5,216 49.5,212 56.2,206 62,201.5 72.4,194 86,185.7 92,181.1 95.2,178 99,174 104.3,168 114,156.4 118.3,152 122,149.1 123.6,148 126,146.8 128,145.9 130,145.4 134,144.8 136,144.7 140,144.9 147.3,146 152,146.9 158,147.6 174,147.9 178,147.8 182,147.4 195.2,144 200,143 210,140.4 216,138.4 220,136.6 224,133.9 226,132.1 228,129.7 230,126.7 232,123.1 237.4,112 240,108 243.3,104 247.6,100 252,96.8 258,93.3 270,86.9 272,85.7 276,82.8 278,81.1 282,77.2 288.3,70 292.2,66 295,62ZM150,161.2 148,162.1 146.1,164 145.4,166 145.6,168 146.1,170 148.1,174 153.2,182 156.2,186 162,192.8 169,202 170.7,204 172.8,206 176,208.1 184.5,212 188.3,214 192,216.5 194,218.3 195.6,220 198,223.4 210,244.2 217.2,256 222,262.6 228,269.1 232,272.9 236,276.3 240.7,280 246,283.6 250,285.8 263,292 272,296.6 276,298.4 278,299.1 280,299.6 282,299.8 284,299.7 286,299 288,297.5 289.1,296 290,294 290.4,292 290.5,290 290,286 288.4,282 287.2,280 285.6,278 278,271.2 274,267.1 270,262 267.5,258 265.5,254 264,250.2 259,234 256.1,226 254,220.9 252,217 250.1,214 245.5,208 244.3,206 243.6,204 242.7,200 241.2,196 240.1,194 238.6,192 236.8,190 234,187.5 229,184 222.7,180 218,177.7 216,177.1 214,176.9 206,177.1 202,176.8 198,175.9 192.9,174 189.6,172 187.3,170 185.6,168 182,162 180,160.6 178,160.5 172,161.2 168,161.4 158,160.5 154,160.4 152,160.6Z" fill="#5aa8d2" fill-rule="evenodd"/>
<path d="M0,22 296,22 296,40.6 294,37.8 292.4,36 290.1,34 287.1,32 284,30.4 280,29 276,28 272,27.4 268,27.2 260,27.4 234,30.7 224,31.6 212,32.4 200,32.7 188,32.5 176,32 154,30.7 142,30.6 134,30.9 128,31.6 122,32.6 116,34.1 110,36.2 106,38 102.4,40 96,44.2 90,49.1 86,52.7 80,58.8 62.9,78 54,87.5 44,97 34,105.4 26,111.4 16,118 6,123.8 4,124.8 0,126.4ZM295.9,62 296,61.8 296,286.8 294,282 291.3,278 289.5,276 288,274.8 280,269.1 276,265.5 272,260.9 268.7,256 266.7,252 265,248 259.9,232 257.7,226 255.4,220 254,217.1 252,213.5 247,206 246,204 243.4,196 242,193.3 239.6,190 236,186.5 232.6,184 225.8,180 220,177.2 216,176.1 214,175.9 208,176 204,175.7 200,174.9 196,173.5 193.4,172 192,170.9 191,170 189.4,168 188.5,166 188,164 187.8,162 188.4,158 188.4,156 188,152 188.6,150 190.5,148 194.6,146 201.3,144 212,141.1 216,139.8 220,138.1 224,135.6 226,133.9 227.7,132 230,128.9 232,125.3 236.2,116 238.2,112 240.7,108 244,104 248,100.4 252,97.5 258,94.1 270.9,88 274.3,86 276.9,84 280,81.2 284,76.8 289.2,70 293.1,66 294.6,64ZM125.6,150 128,149.3 130,149 132,149.1 135.2,150 136.2,152 134.7,154 132,156 130.3,158 129.8,160 130.8,162 132,163.2 136,166.4 138,168.4 140,170.9 146.5,180 149.6,184 153.2,188 160,194.8 168.4,204 170.5,206 174,208.6 184,213.7 187.9,216 190.7,218 194,221.1 196,223.7 198,226.7 212,250.9 216.4,258 219.2,262 222,265.6 228,272.2 234,277.7 239.7,282 245.9,286 256.6,292 259.8,294 265.4,298 276,306.6 280,309.1 284,310.8 286,311.2 288,311.3 290,311 292,310.2 294,308.7 296,305.9 296,316 0,316 0,283.8 3.6,274 6,268.7 10,261.6 14,255.8 20,248.1 26,240.9 43.8,222 48.9,216 52,212.8 59.8,206 64,203.7 68,202.3 71.4,198 73.7,196 76.4,194 88,186.8 92,183.7 96,180.1 101.8,174 109,166 114,159.9 118,155.5 122,152.1Z" fill="#559aca" fill-rule="evenodd"/>
<path d="M0,22 296,22 296,38.7 293.8,36 291.7,34 288,31.5 284,29.5 280,28.1 276,27.2 272,26.7 268,26.5 260,26.9 242,29.3 234,30.2 216,31.5 206,31.9 190,31.7 176,31.3 154,30 142,29.9 134,30.2 128,30.9 122,31.8 116,33.3 110,35.3 104,38.1 98,41.8 92.3,46 86,51.6 80,57.6 62,77.9 54,86.4 46.2,94 40,99.5 30,107.6 20,114.6 14,118.4 8,121.8 4,123.9 0,125.5ZM295.6,64 296,63.3 296,278.4 294.1,276 292,273.9 289.4,272 282,267.5 278,264.3 273.9,260 272,257.5 270,254.4 268,250.6 266,245.9 259.3,226 256,217.3 254,213.2 248.7,204 246.6,198 244.9,194 242.4,190 240.7,188 238,185.4 233.3,182 228,179.2 222,176.7 218,175.5 216,175.1 208,174.8 204,174.5 200,173.4 196.7,172 194,170 192.3,168 191.2,166 190.7,164 190.6,162 191.5,154 192,152 193.1,150 195.5,148 200,146 212,142.5 218,140.4 222,138.5 224,137.2 226,135.7 228,133.7 230.7,130 232.7,126 236.9,116 238.9,112 241.4,108 244.7,104 246.8,102 250,99.4 254,97 258,94.9 269.6,90 273.8,88 278,85.2 281.3,82 284,78.9 286,76.2 288.6,72 290.1,70 293.9,66ZM121.6,160 122,160 124,161.6 126,164 128.1,166 133,170 136,172.8 138.6,176 144.6,184 148.2,188 152.6,192 160,198.4 168.2,206 170.7,208 174,210.2 181.1,214 186,216.9 190,219.9 192,221.8 195.4,226 198,229.9 203.9,240 212,254.2 215.5,260 220,266.3 224,271.1 230,277.2 235.9,282 241.8,286 251.8,292 254.8,294 259.8,298 263.8,302 272,311.9 275.7,316 0,316 0,289.3 3.6,278 6.9,270 10.1,264 12.7,260 16,255.6 22,248.4 26,244 30,240 32,238.3 38,234 42,230.7 44,229.4 46,228.6 50,227.4 51.9,226 53,224 54,221.8 55.1,220 56,219.1 60,217.1 61.5,216 64,212.9 65.1,212 70,209.9 72.7,208 74.3,206 75.1,204 76.1,200 77.2,198 79.2,196 90,188.3 94,185 98,181.1 106,172.9 111.2,168 116,163.1 118,161.3 120,160.1Z" fill="#4f8fc4" fill-rule="evenodd"/>
<path d="M0,22 296,22 296,36.9 294,34.7 292,33 290,31.6 286,29.4 282,27.8 278,26.8 274,26.1 270,25.8 266,25.8 260,26.3 244,28.6 232,29.8 220,30.7 208,31.2 194,31 176,30.5 152,29.2 144,29.1 138,29.3 132,29.7 124,30.8 120,31.5 114,33.1 108,35.3 102,38.3 96,42.1 92,45.1 88.6,48 84,52.3 78.5,58 62,76.7 54,85.3 45.1,94 40,98.6 34,103.6 25.5,110 16,116.3 6,122 2,123.8 0,124.5ZM294.9,66 296,64.6 296,274 293.8,272 292,270.7 284,266.2 280,263.3 276,259.5 274,257.1 271.9,254 269.6,250 267,244 258.9,220 256.5,214 251.6,204 247.5,194 245.2,190 242,186 238,182.5 234,180 229.7,178 224.3,176 218,174.4 206,173.5 202,172.6 200,171.9 196.8,170 194.8,168 193.6,166 193,164 192.8,162 193.2,158 194.2,154 195.2,152 196.9,150 200,148.1 202,147.3 205.5,146 216,142.7 220,141.1 224,139 226,137.5 228,135.7 230,133.3 232,130 234,125.7 237.7,116 239.6,112 242.1,108 243.6,106 246,103.4 250,100.1 256,96.6 264,93.2 272.6,90 276.5,88 279.4,86 282,83.6 285.1,80 286.5,78 289.6,72 290.9,70ZM118.5,168 120,167.6 122,167.8 124,168.4 126,169.5 130,172.2 132.1,174 134,176 135.6,178 141.3,186 143,188 147.3,192 158,199.9 168.3,208 172,210.6 181.4,216 184.4,218 187.1,220 190,222.5 193.1,226 196,230 202,239.8 211,256 214,261.1 218,267.1 221.9,272 227.5,278 232.1,282 237.7,286 250.5,294 255.4,298 257.4,300 260.5,304 262.9,308 267.4,316 0,316 0,296.5 2.2,288 5.3,278 8,271 10,267 11.8,264 16,258.1 20,253.4 26,247 30,243.3 32,241.8 36,239.4 40,237.7 44,234.9 46,233.8 52,231.2 54,230.1 56.7,228 69.3,216 76.6,210 78,208.5 79.7,206 82.5,200 83.9,198 85.6,196 94,188.5 104,178.3 108,174.6 112,171.5 116,169.1Z" fill="#4885bf" fill-rule="evenodd"/>
<path d="M0,22 296,22 296,35.3 294,33.3 292,31.7 289.3,30 285.1,28 282,26.9 278,25.9 274,25.4 270,25.1 266,25.2 262,25.5 250,27.3 238,28.8 228,29.6 216,30.3 208,30.4 196,30.3 174,29.6 170,29.1 166,29.2 156,28.6 142,28.5 134,28.8 128,29.4 120,30.7 114,32.3 110,33.6 106,35.2 100.7,38 94,42.4 88,47.3 84,51 78,57.2 62,75.5 54,84.2 44,94 34,102.7 24,110.2 15.1,116 8.1,120 4,122.1 0,123.5ZM295.9,66 296,65.9 296,271 292,268.3 286,265.2 281.4,262 278,258.9 276,256.6 274,254 272,250.9 270,247.1 267.8,242 265,234 258.6,214 251.2,196 249.3,192 248.2,190 246,186.8 244,184.5 241.3,182 238,179.6 234,177.5 228,175.4 220,173.5 216,173 208,172.5 204.7,172 202,171.1 199.7,170 197.2,168 195.8,166 195.1,164 194.8,162 194.9,160 195.3,158 196,155.9 196.9,154 198,152.5 200,150.7 202,149.5 205.2,148 218,143.6 222,141.8 226,139.5 228,137.8 229.7,136 232,132.7 233.4,130 238.5,116 240.4,112 242.8,108 246.1,104 250,100.7 252,99.4 256,97.3 262,94.8 270.3,92 275.4,90 279.1,88 281.8,86 284,83.9 287.1,80 288.3,78 290.6,72 291.8,70ZM114.4,174 118,172.6 120,172.2 122,172.3 124,172.8 126,173.7 128,175 130,176.8 132,179.1 138,188.5 140,191 142,192.8 146.5,196 156,201.6 168.5,210 181.4,218 186,221.5 188.7,224 192.3,228 196.5,234 202,243.2 212.3,262 216,267.9 220,273.3 224.1,278 226.1,280 230,283.5 236,287.7 246.3,294 250,296.8 253.4,300 255,302 257.3,306 261,316 0,316 0,307.3 0.2,306 2.6,294 5.7,282 8,275.2 10.2,270 12,266.7 13.8,264 16.7,260 20,256.1 24,251.9 28,248.1 32,245 36,242.6 41.7,240 48,236.6 56,233.1 60,230.7 63.6,228 76,216.6 80,213.7 82,212.1 83.9,210 85.4,208 86.6,206 89.2,200 90.3,198 93.3,194 102.1,184 106,180 110,176.6 112,175.3Z" fill="#4076b8" fill-rule="evenodd"/>
<path d="M0,22 296,22 296,33.7 294,32 291.2,30 288,28.3 284,26.6 278,25.1 274,24.6 270,24.4 266,24.5 262,24.9 250,26.9 240,28.1 232,28.8 222,29.3 208,29.6 198,29.6 174,28.7 170,28.2 166,28.4 152,27.8 142,27.7 134,28.1 126,28.9 122,29.5 114,31.4 110,32.7 106,34.3 100,37.3 94,41.2 88,46 83.7,50 78,55.9 62,74.3 53.1,84 44,93 33.7,102 24,109.3 20,112 14,115.7 4,121.1 2,121.9 0,122.5ZM295,68 296,67 296,268.6 292,266.2 286,263.1 282,260.2 277.8,256 276,253.8 273.5,250 270.3,244 267.9,238 265.9,232 259.3,210 254.2,196 252.4,192 250.2,188 248,184.9 246,182.6 243.2,180 240,177.7 236,175.7 232,174.3 228,173.3 224,172.7 218,172 208,171.2 206,170.9 203.1,170 200,168.2 198.1,166 197.2,164 196.9,162 197,160 198,157.1 200,154 202.3,152 205.7,150 208,149 220,144.7 224,142.9 226,141.7 228,140.2 230,138.3 232,135.6 234,131.7 235.4,128 237.9,120 240.1,114 242.2,110 243.5,108 245.1,106 246.9,104 250,101.4 252,100.1 256,98 264,94.9 273.2,92 278,90 281.5,88 284.1,86 286.1,84 288,81.6 289.1,80 290,78 290.9,74 291.5,72 292.8,70ZM113.9,178 116,177 118,176.4 120,176.1 122,176.2 124,176.8 126,177.9 128.2,180 129.6,182 130.6,184 133.2,190 134.3,192 136,194.3 137.9,196 141.3,198 154,203.8 164,209.2 172.1,214 178.3,218 183.6,222 186,224.1 188,226.1 191.4,230 196,236.5 200,243.3 208.8,260 212,265.7 216,272 220,277.3 224,281.6 228,285.2 232,288.1 244.8,296 248,298.6 249.4,300 251.1,302 252.4,304 253.3,306 253.9,308 255.3,316 1.3,316 2.2,308 3.8,298 6,288 8,280.7 10,274.9 12,270.4 14,266.9 18,261.4 22,256.8 26,252.9 30,249.5 34,246.7 38,244.4 46,240.6 50,238.9 62.9,234 66.9,232 76.8,226 82.1,222 86,218.3 88,215.8 90,212.7 92,208.6 94.5,202 96.3,198 98.6,194 101.2,190 104.4,186 108,182.2 110.7,180Z" fill="#3a67b1" fill-rule="evenodd"/>
<path d="M0,22 296,22 296,32.3 293,30 290,28.2 288,27.2 284,25.7 278,24.3 274,23.9 270,23.7 266,23.9 262,24.3 258,24.9 252,26.1 244,27.2 234,28.1 226,28.6 216,28.8 212,28.5 198,28.8 174,27.8 170,26.9 166,27.4 152,27 142,27 132,27.5 122,28.6 120,28.9 114,30.6 108,32.6 102,35.2 96,38.7 90,43.1 84.3,48 80,52.3 74.9,58 57.6,78 48.1,88 39.6,96 30,104 24,108.4 18.5,112 8,118.1 4,120.1 0,121.4ZM293.9,70 296,68.2 296,266.4 288,262.3 284,259.6 280.1,256 278.3,254 276,250.8 274,247.6 272.1,244 270.3,240 268,233.7 265.7,226 260,204.2 257.3,196 254.7,190 252.5,186 250,182.4 248,180.1 245.8,178 242,175.2 238,173.2 234,171.9 232,171.4 228,170.8 214,170.4 209.2,170 206,169.2 203,168 200.7,166 199.6,164 199.2,162 199.5,160 200.3,158 202,155.7 204,153.9 207,152 210,150.6 217.3,148 220,147.2 226,144.7 228,143.5 230,141.8 231.5,140 232.8,138 234.7,134 236,130.1 238.8,120 240.1,116 241,114 242,111.8 244,108.5 245.8,106 247.8,104 250.1,102 256,98.7 264,95.7 275.5,92 280.4,90 283.9,88 286.5,86 288.4,84 290,81.8 291,80 291.7,78 292.1,74 292.6,72ZM115.2,182 118,180.9 120,180.6 122,180.8 124,182 125.4,184 126,185.4 127.8,192 129.3,196 130.6,198 132,199.6 134,201.1 138,202.8 149.5,206 156,208.2 164,211.5 168.8,214 175.2,218 180.5,222 184.9,226 188,229.2 190.4,232 193.3,236 195.9,240 200,247.4 207.3,262 210.5,268 214.1,274 218.5,280 222,283.9 226,287.5 230,290.3 239.5,296 242.5,298 244.9,300 246.8,302 248.2,304 249.1,306 249.6,308 249.8,314 250,316 3.9,316 4.9,306 6.1,298 8,288.2 10,280.6 12,275 14,270.7 16,267.4 20,262.2 24,257.8 30,252.6 36,248.5 40.4,246 46,243.4 52,241.2 58,239.5 72.4,236 78.8,234 84,231.6 86.7,230 89.3,228 91.2,226 92.7,224 94.9,220 97.2,214 101.6,200 104,194.1 105.1,192 107.8,188 109.7,186 112,184Z" fill="#3a61ad" fill-rule="evenodd"/>
<path d="M0,22 296,22 296,31 291.7,28 288,26.2 286,25.5 280,23.8 276,23.3 272,23 268,23.1 262,23.6 250,25.9 244,26.7 234,27.6 226,28 216,28.1 210,27.4 202,28 186,27.6 176,27 174,26.7 170,25.5 166,26.4 164,26.5 144,26.2 132,26.7 120,27.9 114,29.7 107,32 102,34.1 96,37.5 90,41.8 85,46 80,50.9 74,57.6 60.1,74 52.9,82 44,91 38.5,96 34,99.8 28,104.5 23.1,108 18,111.3 13.5,114 6,117.9 2,119.7 0,120.3ZM295.4,70 296,69.5 296,264.6 288,260.5 284,257.5 282,255.6 279,252 276.2,248 274,244 272.1,240 270.5,236 267.9,228 265.4,218 262,201.8 260,195.1 258,189.8 255.3,184 252.9,180 250,176.4 247.5,174 244,171.5 240,169.5 234,167.4 230,166.4 228,166.3 226,166.7 221.8,168 220,168.2 214,168.6 210,168.3 208,167.8 206,167 204.3,166 202.7,164 202.2,162 202.7,160 203.9,158 206,155.9 210,153.6 214,152.2 216,151.8 218,151.6 220,151.7 221.2,152 222,152.4 223.4,154 224,158 226,159.7 228,159 228.7,158 230.7,154 232,152.5 236.2,150 235.7,148 234.7,146 234.5,144 235,140 239.2,122 240.4,118 241.8,114 242.8,112 243.8,110 246,106.9 248.8,104 251.3,102 256,99.5 264,96.5 277.9,92 282.7,90 286.5,88 288,86.9 290,85 292,81.9 292.7,80 293.1,78 293.4,74 293.8,72ZM113.5,194 114,193.4 116,192.4 118,193.1 120,196.2 120.8,198 123.4,202 126,204.8 127.6,206 130,207.5 134,209.1 142,210.9 148,211.9 154,212.2 158,212.6 162,213.5 164,214.2 168,215.9 172,218.2 177.2,222 181.7,226 185.7,230 188,232.6 192,237.9 194,241.1 198,248.3 209.4,272 212.8,278 216,282.6 219,286 223.5,290 228,293.2 235.9,298 238.8,300 241,302 242.7,304 243.8,306 244.5,308 244.8,310 245.2,316 6.7,316 7.4,306 8.4,298 9.8,290 11.8,282 13.8,276 15.7,272 18.2,268 22,263.2 26,259.1 32,254.2 38.5,250 42,248.1 46,246.3 50,244.9 56,243.3 62,242.2 76,240.2 84,238.4 90.4,236 94.1,234 96.9,232 99.1,230 100,228.9 102,225.6 103.3,222 105.5,212 108,204.7 110,199.7 111.9,196Z" fill="#3a5baa" fill-rule="evenodd"/>
<path d="M0,22 296,22 296,29.6 292,27.1 289.8,26 286,24.5 280,23 276,22.5 272,22.3 268,22.4 262,23 250,25.4 244,26.2 234,27 226,27.4 220,27.4 216,27.2 210,25.9 204,26.8 202,27 196,27 184,26.6 176,25.9 170,24.3 166,25.2 164,25.5 140,25.6 120,26.8 108,30.7 102,33.1 96,36.3 90,40.5 84,45.6 79.6,50 74,56.1 62.4,70 55.5,78 48,86 44,90 38,95.5 34,98.9 28,103.5 18,110.2 12,113.6 7.3,116 2.9,118 0,119ZM295.4,72 296,71.3 296,262.8 290.3,260 288,258.6 286,257.1 284,255.2 281.1,252 278.3,248 275.9,244 274,240.1 270.9,232 268.1,222 266.4,214 264.6,202 263.7,198 260.7,188 258,180.9 255.6,176 254,173.4 252,170.8 248,166.8 242.2,162 240.9,160 241.5,158 242,157.5 243.5,154 243.7,152 243.4,150 242.6,148 239,142 238.5,140 238.3,138 238.5,134 239.3,128 240.3,122 241.4,118 242,115.9 244,111.4 246,108.1 247.7,106 250,103.9 252,102.4 256.6,100 264,97.2 280.4,92 285.5,90 289.5,88 292,85.6 293,84 293.8,82 294.4,80 294.6,78 294.8,74ZM210.1,158 212,157.3 214,157.2 216.2,158 217.8,160 218,160.5 218.4,162 217.8,164 216,165.1 214,165.6 212,165.6 210,165.1 207.9,164 207,162 207.7,160ZM122.4,218 124,217.6 128,217.3 134,217.3 138,217.6 148,219 150,219 156,217.1 158,216.8 160,216.7 162,216.9 166,218 168,218.8 172,221.1 176,224.1 180.3,228 185.9,234 189,238 192,242.5 194,246 197.9,254 208,277.9 210,281.9 212,285.1 214.3,288 218,291.4 222,294.4 230.4,300 233,302 235.2,304 236.8,306 238,308 239.3,312 240,316 9.6,316 10.1,306 11.2,296 12.6,288 14.8,280 16,276.7 17.3,274 19.7,270 24,264.6 28,260.6 34,256 40,252.3 44.6,250 50,248 54,247 60,246 78,244.4 86,243.2 90,242.3 94,241.2 97.4,240 102.2,238 106.1,236 108,234.8 109.1,234 111.3,232 112.9,230 114,228.1 116,224 118,220.7 120,219Z" fill="#3a58aa" fill-rule="evenodd"/>
<path d="M0,22 265.1,22 260,22.7 252,24.5 246,25.4 238,26.2 228,26.7 222,26.7 218,26.5 214.9,26 210,24.7 204,25.8 200,26.1 194,26.1 186,25.8 178,25.1 176,24.8 172,23.6 170,23.2 164,24.4 162,24.6 140,24.8 122,25.6 120,25.7 119,26 106,30.4 100,32.9 94.6,36 90,39.2 84,44.2 80,48.1 76,52.4 59.7,72 50.8,82 43,90 34,97.9 26,103.9 22,106.6 16.3,110 8,114.2 4,116 0,117.5ZM278.7,22 296,22 296,28.4 292,26 288,24.2 284,23ZM296,80 296,79.7 296,261.1 289.8,258 287.1,256 285.1,254 281.8,250 279.2,246 277,242 275.1,238 272.1,230 270,222 268.1,212 267,202 266.4,198 262,180.7 260,174 258.4,170 257.3,168 256,165.8 251.8,160 250,157.1 246,148 242.5,142 241.5,140 240.9,138 240.5,134 240.6,130 240.9,126 241.5,122 242.4,118 243.8,114 245.8,110 247.2,108 248.9,106 252,103.4 254.4,102 258.7,100 266,97.3 283.1,92 290,89.5 292.4,88 294,86 295,84 295.6,82ZM155.1,222 158,221.2 160,220.9 162,220.8 164,221.1 166,221.6 168,222.3 172,224.6 176,227.8 180,231.7 183.9,236 186.9,240 190,244.8 192,248.5 194.6,254 197.7,262 199.7,268 204.5,284 206,288 207.1,290 208.7,292 210.9,294 223.3,302 225.9,304 228,306 229.7,308 231,310 232.2,312 233.8,316 12.6,316 13,304 14.1,294 14.8,290 16,284.5 18,278.5 20.2,274 22,271.2 24.5,268 26.3,266 30,262.5 36,258 42,254.5 46,252.6 50,251.2 54,250.2 58,249.6 62,249.2 80,248.6 87.2,248 96,246.4 104,244.2 110.5,242 114,240.5 116,239.5 118,238.2 120,236.1 124,230.5 126,228.3 128,226.7 130,225.5 132,224.6 136,223.6 140,223.2 148,223.3 150,223.2Z" fill="#3b55a9" fill-rule="evenodd"/>
<path d="M0,22 260.7,22 251.8,24 246,24.9 238,25.6 228,26.1 222,26 218,25.7 216,25.3 212,24 210,23.6 208,23.8 204,24.7 200,25.1 194,25.2 186,24.9 178,24.1 172,22.5 170,22.3 168,22.5 164,23.3 160,23.7 140,24 122,24.6 120,24.7 118,25.3 112,27.5 104.1,30 98,32.8 92.6,36 87.2,40 82,44.6 78,48.7 74,53.2 58.6,72 51.6,80 44,88 36,95.3 28,101.4 24,104.1 18,107.7 10,111.7 0,115.9ZM283.5,22 296,22 296,27.1 294,25.9 290,24 286,22.6ZM294.9,88 296,86.2 296,259.4 292,257.5 290,256.3 287.3,254 285.6,252 282.7,248 280.2,244 278.1,240 276.3,236 273.5,228 272,222.4 271.1,218 269.8,210 269.1,200 266.8,188 264.5,174 263,168 262,165.3 260.1,162 254,154.8 252,152.2 245.4,142 244,139.2 242.9,136 242.5,134 242.2,130 242.4,126 242.8,122 244.2,116 245.9,112 248,108.5 250,106.3 252,104.6 256.3,102 260.8,100 266.1,98 276,94.9 290,91.1 292,90.4 294,89ZM154.4,226 158,225.4 162,225.1 164,225.3 166,225.8 168,226.6 170.5,228 174,230.6 177.6,234 181.1,238 184.1,242 187.8,248 190,252.7 192.1,258 194,264 195.9,272 198.4,290 199.5,294 200.5,296 202,297.9 204,299.1 212,302.4 216,304.5 218.3,306 220.8,308 222.8,310 224.4,312 226.9,316 15.9,316 15.9,306 16.7,296 18,287.9 19,284 20.4,280 22,276.6 23.6,274 26.6,270 28.4,268 32,264.6 38,260.3 42,257.9 46.1,256 52,254.1 56,253.3 60,252.9 64,252.7 80,252.9 88,252.7 96,251.7 104,249.8 109.6,248 114,246.2 118,244.3 120,243 122,241.4 123.3,240 128,234.3 130,232.4 132,230.8 134,229.6 136,228.7 140,227.6 144,227.1 150,226.6Z" fill="#3b53a9" fill-rule="evenodd"/>
<path d="M0,22 165.3,22 162,22.6 158,22.9 140,23.2 120,23.7 118,24.2 112,26.5 104,29 100,30.6 96,32.6 92,35.1 88,38 84,41.3 79.1,46 72,54 57.5,72 50.6,80 44,86.9 36,94.3 28,100.4 20,105.4 12,109.3 4,112.3 0,114ZM174,22 257.7,22 250,23.8 246,24.4 238,25.1 228,25.4 222,25.3 218,24.8 216,24.3 212,23.1 210,22.7 208,22.8 204,23.6 200,24.1 192,24.3 182,23.6 178,23ZM287,22 296,22 296,25.9 292,23.8ZM295.5,90 296,89.4 296,257.7 292,255.7 289.7,254 287.8,252 285,248 282,243.1 280,239.3 278,234.7 276,229.2 274.5,224 273.5,220 272.4,214 271.7,208 271.2,200 269.2,186 268,172 266.9,166 266,163.4 264,159.8 262,157.5 254,149.8 250,144.8 247,140 245.3,136 244.7,134 244.1,130 243.9,126 244.2,122 244.5,120 245.5,116 246.3,114 248,110.7 249.9,108 252,106 254.8,104 258.4,102 262.8,100 268.1,98 276,95.6 284,93.5 292,92.1 294,91.2ZM149.8,230 156,229.6 160,229.6 163.1,230 166,230.9 168.4,232 172,234.6 174,236.4 177.3,240 180.3,244 183.8,250 186,255.1 187.6,260 188.6,264 189.8,270 191.3,286 191.9,290 192.9,294 194.7,298 196,300 197.9,302 200,303.4 210,307.7 213.8,310 216.2,312 218.1,314 219.6,316 19.5,316 19.3,306 19.7,298 20.1,294 20.8,290 22.3,284 23.9,280 24.9,278 26.1,276 28,273.3 30,271 33.1,268 38.3,264 44,260.7 48,258.9 52,257.6 56,256.9 60,256.5 64,256.4 82,257.3 90,257.3 94,257 98,256.4 104,254.9 108,253.6 112,252.1 116,250.2 120,247.8 122,246.4 124.7,244 132,236.4 134,234.8 136,233.4 139,232 142,231 146,230.4Z" fill="#3b50a9" fill-rule="evenodd"/>
<path d="M0,22 156.9,22 122,22.6 120,22.8 118,23.2 110.4,26 102,28.6 98,30.4 94,32.5 90,35.1 86,38.2 82,41.7 78,45.6 70.7,54 56.4,72 49.5,80 43.9,86 40,89.7 36,93.2 32,96.4 28,99.3 24,101.8 20,104.1 12,107.8 4,110.3 0,112ZM178.4,22 206.7,22 200,23.1 194,23.3 186,23ZM211.3,22 255.2,22 250,23.2 244.3,24 238,24.5 230,24.8 224,24.6 220,24.3 216,23.4ZM290,22 296,22 296,24.8 294,23.7ZM295.5,92 296,91.6 296,255.9 294,255 292,253.8 290.2,252 287.5,248 284,242.2 281.8,238 279.3,232 277.4,226 275.8,220 274,210 272.1,190 271.1,170 270.5,166 269.4,162 268,159.2 265.5,156 256,148 254,145.9 250.9,142 248.5,138 246.9,134 246,130 245.6,126 245.7,122 246,120 247,116 248,113.5 250.1,110 251.8,108 254,106 256,104.6 262,101.3 264.9,100 270.2,98 276,96.3 284,94.4 292,93.3 294,92.8ZM145.4,234 150,233.6 154,233.7 158,234.2 162,235.3 164,236.2 166,237.3 168,238.7 170,240.5 173.2,244 175.9,248 178,251.8 179.7,256 181,260 182,264 182.8,268 184.7,282 185.7,288 187.4,294 189.2,298 190.4,300 192,302.3 194,304.4 195.9,306 198,307.3 204,310 207.5,312 210.1,314 212.1,316 23.5,316 23,306 23.3,298 24,291.9 24.9,288 26,284.4 28,280 30,276.8 32,274.3 36,270.4 40,267.4 44,264.9 48,262.9 52,261.5 56,260.7 60,260.4 64,260.4 70,260.8 82,261.9 90,262.2 94,262 98,261.4 102,260.6 106,259.5 110,258 114,256.2 120,252.7 124,249.7 126,247.9 134,240 136.4,238 140,235.8 142,234.9Z" fill="#3c4ea8" fill-rule="evenodd"/>
<path d="M0,22 119.3,22 116,22.9 110,25.1 104,26.8 100,28.3 94,31.3 88,35.2 82,40.2 76,46.2 69.3,54 51.9,76 44,84.7 40,88.6 36,92.1 28,98.1 24,100.6 20,102.8 16,104.7 12,106.3 2,109.2 0,110.1ZM185.9,22 200.5,22 194,22.3ZM214.6,22 252.7,22 248,22.9 242,23.6 236,24 230,24.1 222,23.7 218,23ZM292.6,22 296,22 296,23.6ZM294.6,94 296,93.3 296,253.9 294,252.8 292.9,252 292,251.1 290,248 286.6,242 284,236.7 282,232 280,226.3 278.3,220 276.3,210 275.2,202 274.4,190 274,170 273.2,164 272,160.2 270,156.7 268,154.4 265.3,152 257.6,146 254,142.4 252.2,140 250,136 248.5,132 247.6,128 247.3,124 247.6,120 248,118 249.5,114 250.6,112 252,110 253.9,108 256.1,106 259,104 262.4,102 266.9,100 270,98.8 276,97 284,95.2 288,94.7 292,94.4ZM146.5,238 150,237.8 152,238.1 154,238.7 157.4,240 160.6,242 163.1,244 166.8,248 168.2,250 170.5,254 173,260 175.3,268 178.6,282 180.3,288 182.3,294 185.1,300 188,304.3 190,306.7 192,308.6 194,310.2 196,311.5 201.2,314 204.1,316 28.1,316 27.3,306 27.5,298 28.2,292 29.9,286 32,281.7 34,278.7 36,276.4 40,272.8 43.9,270 47.2,268 50,266.6 54,265.5 58,264.9 62,264.8 66,265 82,266.9 90,267.3 94,267.2 98,266.7 102,266 106,264.9 110,263.5 114,261.7 120,258.1 126,253.5 135.9,244 138.2,242 142,239.5 144,238.7Z" fill="#3c4ba8" fill-rule="evenodd"/>
<path d="M0,22 115.6,22 110,24 102,26.4 98,28 94,30.1 90,32.5 86,35.3 82.7,38 76.5,44 71.2,50 54,72 47.2,80 43.5,84 39.3,88 32,94.1 26,98.2 22,100.5 18,102.5 12,104.9 2,107.6 0,108.4ZM217.5,22 250,22 242,23 232,23.5 224,23.2 220,22.6ZM295,22 296,22 296,22.5ZM284.5,96 294,95.2 296,94.6 296,251.3 294,249.6 292,246.6 289.6,242 286,234 284,229.2 282.3,224 279.3,212 278,206 277.2,200 276.7,190 276.6,170 275.9,164 274.7,160 273.8,158 272.6,156 270,152.9 266.7,150 258.9,144 256,141.1 254,138.5 252,135.1 250.7,132 249.6,128 249.1,124 249.3,120 249.7,118 250.4,116 251.3,114 252.5,112 254,110 255.9,108 258.1,106 260.9,104 264,102.2 269,100 276,97.7ZM143,246 146,244.8 148,244.6 150,244.8 152,245.5 154,246.6 156,248 158,250 160,252.4 162.4,256 165.3,262 173.2,284 177.4,294 181.2,302 183.5,306 186,309.4 190,313.5 193.1,316 33.7,316 32.7,308 32.4,302 32.8,296 34,290.2 35.7,286 38.2,282 39.9,280 41.9,278 46,274.9 50,272.6 52,271.7 54,271.1 58,270.4 62,270.2 66,270.5 80,272.4 84,272.8 88,272.9 92,272.8 98,272.3 104,271.3 108,270.3 112,269 116,267.2 122,263.6 128,258.8 138,249.5 140,247.9Z" fill="#3d49a7" fill-rule="evenodd"/>
<path d="M0,22 112.6,22 102,25.2 96,27.8 92,29.9 88,32.5 84,35.5 81,38 74.9,44 69.7,50 64.9,56 54.2,70 46,79.9 40,86.1 33.1,92 30,94.3 26,96.9 22,99.2 18,101.2 12,103.5 2,106.2 0,106.9ZM221.3,22 246.2,22 240,22.6 232,22.8 226,22.6ZM294.9,96 296,95.7 296,247.3 294,244.2 292.9,242 286.9,228 285.5,224 283.5,216 281.6,210 280.6,206 279.5,200 279,194 278.9,188 279,174 278.8,168 278.3,164 277.3,160 275.4,156 274.1,154 272.3,152 268,148.1 260.2,142 258,139.8 256,137.4 253.9,134 252.3,130 251.3,126 251,122 251.6,118 252.3,116 254.4,112 257.8,108 260.1,106 262.9,104 266.5,102 270,100.5 278,98 286,96.6 292,96.3ZM142.1,258 144,257.3 146,257 148,257.2 150,258 152,259.5 154.2,262 156,264.5 158,268 165,282 174,297.6 178.8,308 181.1,312 184.1,316 41.1,316 39.8,308 39.3,302 39.5,298 40.2,294 41.7,290 44,286.3 46,284 48,282.3 50,281 52,279.8 54,279 57.8,278 60,277.7 66,277.9 78,279.7 84,280.1 90,279.7 98,278.6 108,277.7 114,276.5 118,275.1 122,273 128,268.7 138,260.5Z" fill="#3d46a6" fill-rule="evenodd"/>
<path d="M0,22 109.3,22 100,24.8 94,27.6 90,29.9 86.7,32 84,34 80,37.3 74,43.3 68.1,50 63.4,56 52,71 46,78.2 42,82.6 38.5,86 32,91.5 25.3,96 22,97.9 18,99.8 14,101.4 10,102.8 0,105.5ZM227.9,22 239.3,22 234,22.2ZM282.2,98 286,97.4 294,97.1 296,96.8 296,240.8 293.2,234 290.5,228 288.9,224 286.1,214 283.3,206 282.3,202 281.7,198 281.2,192 281.3,174 281.1,168 280.2,162 279,158 278,156 276.8,154 274,150.6 271.2,148 262,140.5 260,138.6 258,136.2 256,133.1 254.6,130 253.9,128 253.1,124 253.1,120 253.5,118 254.2,116 255.1,114 256.3,112 257.8,110 259.7,108 262,106 264,104.6 268.7,102 274,100 278,98.9ZM137.8,280 140,278.7 142,278.1 144,278.1 146,278.6 148,279.6 150,281.1 152,283 156.9,288 164,295 168,299.4 169.4,302 172.3,310 175,316 54.6,316 55.3,312 55.3,310 54.7,304 54.7,302 54.9,300 55.6,298 57.2,296 58,295.4 60,294.5 62,294.1 64,294.2 66,294.7 69,296 74,299 76,299.8 78,300 80,299.8 82,299.2 84,298.3 88,295.9 90,294.3 94.2,290 96,288.8 98,287.8 100,287.4 102,287.6 104,288.5 106,290 109.2,294 112,295.7 124,300.5 126,301 128,301.1 130,300.4 130.4,300 131.4,298 131.7,296 132,290 132.4,288 133.1,286 134.2,284 135.6,282Z" fill="#3d43a5" fill-rule="evenodd"/>
<path d="M0,22 105.3,22 102,23 98,24.5 94,26.4 91,28 84,32.5 77.5,38 71.6,44 66.5,50 50,71.5 44.6,78 38.8,84 32,90 26,94.2 22,96.5 18,98.5 14,100.1 10,101.4 0,104.1ZM293.3,98 296,97.8 296,232.3 292,223 289.1,214 286.1,206 284.5,200 283.9,196 283.5,190 283.5,174 283.3,168 282.5,162 281.3,158 279.4,154 278,152 276.3,150 272.1,146 264,139.3 260.8,136 259.3,134 258,132 256.2,128 255.2,124 255.1,122 255.2,120 255.5,118 256.1,116 257,114 258.2,112 259.7,110 261.6,108 264,106 266,104.7 271.1,102 278,99.7 286,98.3ZM105.4,306 108,305.8 110,306 112,306.4 114,307.3 116,308.5 120,312 122,313.4 126.7,316 79.5,316 84,313.5 86,312 90,308.4 92,307.2 94,306.5 96,306.1 102,306.4Z" fill="#3e41a4" fill-rule="evenodd"/>
<path d="M0,22 101.5,22 98,23.3 94,25.1 88,28.5 82,32.5 75.6,38 69.8,44 64.7,50 48,71.7 44,76.6 38,82.9 32,88.2 26.9,92 23.7,94 20.1,96 16,97.9 10,100.1 0,102.8ZM280.8,100 286,99.1 296,98.8 296,224.4 289,206 287.7,202 286.7,198 286.1,194 285.8,190 285.6,174 285.4,168 284.6,162 283.5,158 281.8,154 280,151.3 278,148.8 274,144.9 266,138 262.2,134 259.6,130 258,126.1 257.5,124 257.3,122 257.3,120 257.6,118 258.1,116 259,114 260.1,112 262,109.6 263.6,108 266,106.1 269.4,104 273.9,102ZM95.7,310 98,309.3 100,309.1 104,309 106,309.1 108,309.4 110,310.1 112,311.2 114,312.7 117.5,316 88.2,316 92.3,312 94,310.8Z" fill="#3f3aa3" fill-rule="evenodd"/>
<path d="M0,22 98.2,22 92,24.8 84,29.6 78.1,34 73.7,38 67.9,44 62.8,50 48,69.2 42.4,76 36.7,82 29.9,88 24,92.2 20.9,94 16,96.5 10,98.8 0,101.5ZM285.9,100 296,99.8 296,216.1 291.2,204 289.9,200 289,196 288.4,192 288.1,188 287.8,172 287.3,166 286.3,160 285,156 282.9,152 279.9,148 276,144 267.3,136 263.8,132 261.4,128 260,124.3 259.6,122 259.5,120 259.7,118 260.2,116 261,114 262.2,112 263.7,110 265.8,108 268.5,106 270,105.1 272,104 276,102.4 280,101.2ZM98.3,312 100,311.5 102,311.2 104,311.4 106,311.8 108,312.7 110,314 112.2,316 93,316 95,314Z" fill="#4033a1" fill-rule="evenodd"/>
<path d="M0,216.5 2,213.8 3.1,212 6.1,206 8,202.8 10,200 12,197.3 16,192.7 20,188.6 24,184.9 28,181.5 34,176.7 46,167.6 52,162.7 59.4,156 72,143.2 78,137.5 84,132.5 98,122.2 102,118.4 104,115.7 105.9,112 106.5,110 107.1,106 107.1,104 106.9,102 106.4,100 105.8,98 104.7,96 104,95 102,92.9 100,91.5 98,90.5 96,89.9 94,89.6 92,89.4 90,89.5 88,89.9 86,90.6 84,91.4 80,94.1 77.8,96 74.1,100 70.9,104 64,113.3 60,118.3 56,122.9 51.1,128 42.6,136 26.7,150 18,158.1 14,162.2 10,166.6 8,168.9 5.8,172 4.1,174 2,174.8 0,175.1M190,71.9 182,72.3 174,73 165.7,74 160,75 156,76.2 154,77.3 153.2,78 151.7,80 151.6,82 152.2,84 153.3,86 154.9,88 158.9,92 161.2,94 166.5,98 172.4,102 175.7,104 180,106.2 184,107.7 186,108.2 188,108.5 192,108.6 194,108.4 196,107.9 200,106.4 204.3,104 207,102 209.3,100 211.3,98 213,96 215.6,92 217.3,88 217.8,86 218.1,84 218.2,82 217.9,80 217.2,78 215.9,76 213.2,74 210,72.8 206,72.1 202,71.8 190,71.9M0,229.7 3.8,222 5.9,218 10,211.7 14,206.6 20,200.2 26,194.7 31.7,190 54,173.1 62.8,166 69.3,160 79,150 83.1,146 87.6,142 100,132 104,128.3 108,124 110.8,120 111.9,118 112.7,116 114,112 116,103.2 117.3,100 120,95 123.2,90 124.2,88 124.7,86 124.7,84 124,81.9 122,79.9 120,78.9 118,78 116,77.5 112,76.7 110,76.5 106,76.5 104,76.7 102,76.9 98,77.9 94,79.3 90,81.3 84,85 78,89.7 74,93.3 56.6,110 36,128.7 26.1,138 18.2,146 12.8,152 8,157.8 3.2,164 2,165.2 0,166.5M0,241.9 3.5,236 6,230.8 8,227.1 11.1,222 14,217.9 17,214 20.4,210 24,206 30.1,200 39.1,192 46.5,186 69.3,168 76.5,162 83.1,156 90,149.3 98,141.1 108,130.4 124,112.8 128,109 130,107.5 134,105 138,103.4 140,102.9 142,102.7 144,102.6 146,102.8 150,103.7 154,105.3 158,107.1 167.4,112 171.7,114 176,115.7 180,116.8 184,117.5 188,117.7 190,117.7 194,117.3 196,116.9 202,115.2 206,113.5 210,111.3 214,108.5 218,105 221,102 224,98.7 232.6,88 238,81.7 242,77.5 246,74 250,71.2 254,69 258,67.4 263,66 264,65.5 266.1,64 268.3,62 270,59.7 270.8,58 271.2,56 270.9,54 270.1,52 268.5,50 265.8,48 264,47.1 260.5,46 258,45.6 256,45.6 254,45.7 252,46.1 236,51.6 230,53.5 224,55.1 216,56.9 210,57.7 204,58.1 196,58 184,57.2 162,55 152,54.5 144,54.4 136,54.9 132,55.3 127.2,56 120,57.7 114,59.7 108.4,62 104.3,64 98,67.5 94,70 88,74.1 80,80.5 74,85.7 65.2,94 48,111.7 40,119.3 30,128 5.7,148 3.4,150 0,153.5M0,251 3.3,246 6.5,240 10,234 14,228.1 18,222.7 22,217.9 26,213.3 30,209.1 40,199.5 50,190.8 58.3,184 83.4,164 92,156.8 96,153.3 101.6,148 105.5,144 116,132.1 119.9,128 124,124.1 128,120.9 132,118.3 136,116.6 138,116.1 140,115.7 144,115.5 148,115.8 154,117.1 160,119 174,124.1 180,125.8 184,126.7 188,127.2 190,127.2 194,127.1 196,126.8 199.2,126 204,124.2 208,122.2 212,119.6 216,116.6 220,113 226,106.7 236,94.8 240,90.4 244,86.5 248,83 252,79.9 257.7,76 264.2,72 274,66.6 276,65.2 277.4,64 279.1,62 280,60.6 281.1,58 281.5,56 281.5,54 281.1,52 280,49.1 279.4,48 277.9,46 275.7,44 272.7,42 270,40.7 266,39.4 260,38.3 256,38 254,38 252,38.3 250,38.8 244,41.3 240,42.7 230,45.5 220,47.5 210,48.7 200,49.3 194,49.3 188,49.1 180,48.6 154,46.2 148,45.8 142,45.8 136,46.1 130,46.7 124,48 120,49.2 116,50.6 112,52.3 108,54.2 104,56.4 96,61.5 88,67.5 82,72.5 74,79.8 66,87.6 47.7,106 39.3,114 34,118.8 24,127 16,132.8 10,136.8 0,142.8M214,203.7 212,204.8 210.9,206 210.4,208 210.5,210 210.9,212 212,216.1 214,220.5 216,223.8 218,226.4 221.3,230 224.1,234 226,236.3 230,240.7 232,242.4 234,243.6 236,244.2 238,244.1 240,243 240.7,242 241.4,240 241.5,238 240.9,234 240,230.1 238,224 236,219.6 234,216 230,210.7 228,208.8 224,206 222,205.1 218,203.8 216,203.6 214,203.7M0,260.8 2,258.1 3.3,256 6.1,250 9.3,244 12,239.6 16,233.9 20,228.9 24,224.3 28,220.2 34,214.4 42,207.4 63.1,190 72.5,182 104,152.9 114,144.2 120,139.3 126,135.1 130,132.7 134,130.8 138,129.3 140,128.7 144,127.9 146,127.7 150,127.7 154,128.1 160,129.3 176,133.2 182,134.2 188,134.9 194,135 198,134.6 202,133.8 206,132.3 208,131.4 210.4,130 214,127.5 220,122.2 224,118.1 234.6,106 240,100.3 244,96.3 250,90.9 254,87.6 260,83.1 278,70.4 284,66 285.9,64 287.2,62 288.2,60 288.8,58 289.2,56 289.3,54 289.2,52 288.9,50 288.3,48 287.5,46 286.3,44 284.7,42 282,39.5 280,38.2 278,37 274,35.4 270,34.3 266,33.6 260,33.1 256,33 252,33.2 250,33.5 248.1,34 244,35.4 240,36.5 234,37.9 228,39.1 222,40 216,40.8 208,41.4 198,41.7 186,41.4 178,40.8 154,38.4 148,38.1 142,37.9 136,38.1 130,38.7 124,39.8 120,40.9 114,43.1 108,46 104,48.3 100,51 94,55.4 86,62.3 80,68 72,76.1 58.9,90 50,99.1 42,106.8 33.9,114 24,121.7 18,125.8 14,128.3 8,131.7 0,135.5M296,47.4 294.9,44 293.9,42 292.6,40 290,37.1 288,35.3 286.1,34 282,31.8 278,30.4 274,29.5 268,28.8 262,28.7 256,29.1 250,29.7 242,31.1 230,32.6 218,33.7 206,34.4 194,34.5 188,34.4 176,33.8 154,32.4 142,32.2 136,32.4 130,33 124,33.9 118,35.3 112,37.4 106,40.2 100,43.8 94.3,48 88,53.5 82,59.3 74,67.9 60,83.5 55.7,88 48,95.5 40,102.6 36,106 30,110.6 26,113.5 20,117.6 12,122.5 6,125.9 4,127 0,128.7M0,274.8 2.2,270 5.5,264 10,256.5 16,247.4 21.4,240 26,234.2 31.3,228 38.6,220 44.6,214 51.1,208 56,203.8 60.8,200 66,196 71.7,192 84.1,184 86.9,182 90,179.5 93.6,176 96,173.5 111.3,156 115.3,152 120,147.9 122.9,146 126.5,144 132,142.1 136,141.4 140,141.1 146,141.2 154,141.8 166,143.1 172,143.5 180,143.6 186,143.3 194,142.3 200,141.3 204,140.4 212,138.2 214,137.5 218,135.7 221,134 223.6,132 225.6,130 227.2,128 230,123.9 235.2,114 237.6,110 239,108 242.4,104 246,100.5 250,97.3 256,93.3 265.1,88 270,84.9 276,80.5 278,78.8 284,73.1 291,66 292.6,64 293.8,62 294.7,60 296,56.1M296,32.6 292.6,30 290,28.4 288,27.5 284.2,26 282,25.3 278,24.5 274,24 270,23.9 266,24 262,24.4 258,25 252,26.2 244,27.3 234,28.2 226,28.7 216,29 212,28.7 204,29 198,29 174,28.1 170,27.2 166,27.7 152,27.2 142,27.2 132,27.7 122,28.8 120,29.1 114,30.8 108,32.8 102,35.4 96,38.9 90,43.3 84.7,48 80,52.6 75.1,58 57.9,78 48.4,88 39.9,96 35.2,100 30,104.2 24,108.6 18.9,112 14,115 8,118.3 4,120.3 0,121.7M296,266.9 294,265.7 286.7,262 284,260.1 282,258.4 279.6,256 277.9,254 276,251.5 273.8,248 272,244.6 270,240.1 267.7,234 265.3,226 260,206.2 258.1,200 256.6,196 254.9,192 252.9,188 250.3,184 248,181.2 244.6,178 242,176.1 240,175 238,174 234,172.6 230,171.8 226,171.2 214,170.7 208,170.2 206,169.7 204,168.9 202.2,168 200,166 199,164 198.6,162 198.9,160 200,157.4 202,154.9 204,153.2 206,151.9 210,150 215.5,148 220,146.6 224,144.9 228,142.6 230,140.9 230.8,140 232.2,138 233.4,136 234.3,134 235.7,130 238,122 239.9,116 241.7,112 244.1,108 245.6,106 247.6,104 250,101.9 253.2,100 256,98.5 264,95.5 275.1,92 279.9,90 283.3,88 286,86 287.9,84 289.4,82 290.6,80 291.3,78 291.8,74 292.3,72 293.6,70 296,67.9M3.4,316 4.4,306 5.9,296 8,286.2 9.7,280 11.9,274 13.9,270 16,266.6 20,261.4 24,257.1 26,255.2 30,251.9 35.7,248 40,245.6 46,242.8 52,240.5 58,238.7 68.1,236 76,233.5 79.7,232 82,230.8 84,229.7 86.4,228 88.6,226 90,224.4 91.7,222 92.9,220 94,217.7 95.5,214 99.5,202 101,198 102.8,194 105.1,190 108.2,186 110,184.3 112,182.7 114,181.4 116,180.4 118,179.7 120,179.4 122,179.5 123.2,180 124,180.5 125.6,182 126.8,184 127.5,186 129.2,192 130,194.1 131,196 132,197.4 134,199.3 136,200.5 138,201.3 146.7,204 152,205.8 156,207.4 162,210 166,212 172.9,216 175.9,218 181.2,222 186,226.4 188,228.5 190.9,232 193.9,236 196,239.3 200,246.4 206.9,260 211.2,268 214.9,274 219.4,280 222,282.9 224,284.8 227.9,288 232,290.8 240.8,296 243.7,298 246.1,300 247.9,302 249.2,304 250,305.8 250.6,308 250.8,310 250.9,314 251.1,316M119.8,22 118,22.4 116,23 110,25.2 104,26.9 100,28.4 94,31.4 88,35.4 82,40.3 76,46.4 69.5,54 60,66.2 52.1,76 48.6,80 44,84.8 40,88.7 36,92.3 32,95.4 28,98.3 24,100.8 20,102.9 16,104.8 12,106.5 2,109.4 0,110.3M201.4,22 198,22.3 194,22.5 190,22.4 184.8,22M253,22 250,22.7 244,23.5 238,24 230,24.2 226,24.1 222,23.8 218,23.1 214.3,22M296,23.7 292.3,22M296,254.1 294,253.1 292.5,252 292,251.4 290.9,250 286.3,242 284,237.4 281.7,232 280,227.2 278,220.1 276,210 275,202 274.1,190 273.7,170 273.2,166 272.9,164 272,161.1 270.5,158 269,156 268,154.9 264.8,152 257.2,146 254,142.8 252,140.1 249.8,136 248.3,132 247.4,128 247.1,124 247.4,120 247.8,118 248.4,116 249.3,114 250.4,112 251.8,110 253.7,108 255.9,106 258.8,104 262.2,102 266.7,100 270,98.8 276,96.9 282,95.6 286,94.8 294,94.1 296,93.1M27.6,316 26.9,308 26.8,300 27.4,294 28,290.7 28.7,288 30,284.5 31.2,282 33.9,278 35.6,276 38,273.7 40.1,272 43,270 46.2,268 50,266.1 54,264.9 58,264.4 62,264.2 66,264.4 82,266.3 86,266.7 90,266.7 94,266.6 98,266.1 102,265.4 106,264.3 110,262.9 114,261 118,258.8 120,257.5 124,254.5 126,252.8 136,243.2 140.1,240 142,239 144.2,238 146,237.6 148,237.3 150,237.3 152,237.5 154.1,238 156,238.7 158.9,240 161.9,242 164,243.7 166.2,246 168,248.1 170,251.2 171.5,254 173.9,260 176,267.3 179.3,282 180.9,288 182.9,294 184.6,298 185.7,300 188.4,304 190.1,306 192.1,308 194,309.5 196,310.9 202,313.7 205,316M95.2,22 90,24.6 86,26.9 82,29.4 76,34 71.5,38 67.6,42 62.3,48 57.5,54 48,66.3 40,75.9 34.1,82 29.7,86 26,88.9 22,91.6 16,94.8 13.5,96 8.1,98 0,100.2M296,208.5 294.2,204 292.8,200 291.3,194 290.8,190 290.5,186 290,172 289.5,166 288.4,160 287.1,156 285.2,152 283.9,150 282,147.5 278,143.1 268.8,134 265.6,130 264.3,128 263.3,126 262.6,124 262.1,122 261.9,120 262,118 262.5,116 263.2,114 264.4,112 266,110 268,108.2 271.1,106 276,103.6 280,102.2 282,101.8 286,101.1 288,100.9 296,101M97.8,316 100,314.4 102,313.7 104,314.1 106.9,316M69.3,22 64,23.6 52,26.4 50,27.2 48,28.4 46.6,30 45.5,32 41.5,44 38.8,50 37.7,52 35,56 28,64.8 27.2,66 25.4,70 24.4,72 22.9,74 20,77 16,80.1 10,84.1 4,88.4 2,89.5 0,90.3M296,142.6 294.5,140 293.9,138 293.7,136 293.9,134 294.5,132 296,128.7M30.8,22 28.9,26 27.5,30 26.6,34 24.7,44 23.4,50 20,62.9 18.8,66 18,67 16.7,68 11.1,72 4,76 0,78M15.1,22 13.5,26 11.8,32 8.7,48 7.6,52 6,55.5 4.1,58 2,59.9 0,61.2" fill="none" stroke="#000" stroke-width="0.6" stroke-opacity="0.85"/>
</g>
<rect x="308.2" y="24.80" width="8.8" height="284.80" fill="#4033a1"/>
<rect x="308.2" y="29.25" width="8.8" height="280.35" fill="#3f3aa3"/>
<rect x="308.2" y="33.70" width="8.8" height="275.90" fill="#3e41a4"/>
<rect x="308.2" y="38.15" width="8.8" height="271.45" fill="#3d43a5"/>
<rect x="308.2" y="42.60" width="8.8" height="267.00" fill="#3d46a6"/>
<rect x="308.2" y="47.05" width="8.8" height="262.55" fill="#3d49a7"/>
<rect x="308.2" y="51.50" width="8.8" height="258.10" fill="#3c4ba8"/>
<rect x="308.2" y="55.95" width="8.8" height="253.65" fill="#3c4ea8"/>
<rect x="308.2" y="60.40" width="8.8" height="249.20" fill="#3b50a9"/>
<rect x="308.2" y="64.85" width="8.8" height="244.75" fill="#3b53a9"/>
<rect x="308.2" y="69.30" width="8.8" height="240.30" fill="#3b55a9"/>
<rect x="308.2" y="73.75" width="8.8" height="235.85" fill="#3a58aa"/>
<rect x="308.2" y="78.20" width="8.8" height="231.40" fill="#3a5baa"/>
<rect x="308.2" y="82.65" width="8.8" height="226.95" fill="#3a61ad"/>
<rect x="308.2" y="87.10" width="8.8" height="222.50" fill="#3a67b1"/>
<rect x="308.2" y="91.55" width="8.8" height="218.05" fill="#4076b8"/>
<rect x="308.2" y="96.00" width="8.8" height="213.60" fill="#4885bf"/>
<rect x="308.2" y="100.45" width="8.8" height="209.15" fill="#4f8fc4"/>
<rect x="308.2" y="104.90" width="8.8" height="204.70" fill="#559aca"/>
<rect x="308.2" y="109.35" width="8.8" height="200.25" fill="#5aa8d2"/>
<rect x="308.2" y="113.80" width="8.8" height="195.80" fill="#61b6d7"/>
<rect x="308.2" y="118.25" width="8.8" height="191.35" fill="#6ac5da"/>
<rect x="308.2" y="122.70" width="8.8" height="186.90" fill="#7cced7"/>
<rect x="308.2" y="127.15" width="8.8" height="182.45" fill="#88d5d5"/>
<rect x="308.2" y="131.60" width="8.8" height="178.00" fill="#90dad3"/>
<rect x="308.2" y="136.05" width="8.8" height="173.55" fill="#8edacd"/>
<rect x="308.2" y="140.50" width="8.8" height="169.10" fill="#8ddac7"/>
<rect x="308.2" y="144.95" width="8.8" height="164.65" fill="#8cdac0"/>
<rect x="308.2" y="149.40" width="8.8" height="160.20" fill="#8ddbb8"/>
<rect x="308.2" y="153.85" width="8.8" height="155.75" fill="#8edcb0"/>
<rect x="308.2" y="158.30" width="8.8" height="151.30" fill="#92dca3"/>
<rect x="308.2" y="162.75" width="8.8" height="146.85" fill="#98dd94"/>
<rect x="308.2" y="167.20" width="8.8" height="142.40" fill="#9fde84"/>
<rect x="308.2" y="171.65" width="8.8" height="137.95" fill="#a9de79"/>
<rect x="308.2" y="176.10" width="8.8" height="133.50" fill="#b4de6f"/>
<rect x="308.2" y="180.55" width="8.8" height="129.05" fill="#bfde65"/>
<rect x="308.2" y="185.00" width="8.8" height="124.60" fill="#c9de5a"/>
<rect x="308.2" y="189.45" width="8.8" height="120.15" fill="#d4df4e"/>
<rect x="308.2" y="193.90" width="8.8" height="115.70" fill="#dfdf42"/>
<rect x="308.2" y="198.35" width="8.8" height="111.25" fill="#e9e037"/>
<rect x="308.2" y="202.80" width="8.8" height="106.80" fill="#edde32"/>
<rect x="308.2" y="207.25" width="8.8" height="102.35" fill="#f1dd2c"/>
<rect x="308.2" y="211.70" width="8.8" height="97.90" fill="#f5d926"/>
<rect x="308.2" y="216.15" width="8.8" height="93.45" fill="#f7cd1c"/>
<rect x="308.2" y="220.60" width="8.8" height="89.00" fill="#f6bf1c"/>
<rect x="308.2" y="225.05" width="8.8" height="84.55" fill="#f4af20"/>
<rect x="308.2" y="229.50" width="8.8" height="80.10" fill="#f29f20"/>
<rect x="308.2" y="233.95" width="8.8" height="75.65" fill="#f08f20"/>
<rect x="308.2" y="238.40" width="8.8" height="71.20" fill="#ee8120"/>
<rect x="308.2" y="242.85" width="8.8" height="66.75" fill="#eb7320"/>
<rect x="308.2" y="247.30" width="8.8" height="62.30" fill="#e86520"/>
<rect x="308.2" y="251.75" width="8.8" height="57.85" fill="#e65b20"/>
<rect x="308.2" y="256.20" width="8.8" height="53.40" fill="#e45020"/>
<rect x="308.2" y="260.65" width="8.8" height="48.95" fill="#e24620"/>
<rect x="308.2" y="265.10" width="8.8" height="44.50" fill="#e03e22"/>
<rect x="308.2" y="269.55" width="8.8" height="40.05" fill="#dd3623"/>
<rect x="308.2" y="274.00" width="8.8" height="35.60" fill="#db2f23"/>
<rect x="308.2" y="278.45" width="8.8" height="31.15" fill="#d72d21"/>
<rect x="308.2" y="282.90" width="8.8" height="26.70" fill="#d42b1f"/>
<rect x="308.2" y="287.35" width="8.8" height="22.25" fill="#d0281c"/>
<rect x="308.2" y="291.80" width="8.8" height="17.80" fill="#c42519"/>
<rect x="308.2" y="296.25" width="8.8" height="13.35" fill="#b32318"/>
<rect x="308.2" y="300.70" width="8.8" height="8.90" fill="#9f2118"/>
<rect x="308.2" y="305.15" width="8.8" height="4.45" fill="#911f16"/>
<clipPath id="cc"><polygon points="45.4,344.1 252.5,344.1 252.5,385.1 294.1,385.1 294.1,592 252.5,592 252.5,633.5 45.4,633.5 45.4,592 3.9,592 3.9,385.1 45.4,385.1"/></clipPath>
<g clip-path="url(#cc)">
<polygon points="45.4,344.1 252.5,344.1 252.5,385.1 294.1,385.1 294.1,592 252.5,592 252.5,633.5 45.4,633.5 45.4,592 3.9,592 3.9,385.1 45.4,385.1" fill="#911f16"/>
<path d="M1,341 297,341 297,635 6.5,635 6.1,591 5.5,587 4.3,581 2.8,575 1,569.3Z" fill="#9f2118" fill-rule="evenodd"/>
<path d="M1,341 297,341 297,635 10,635 9.4,593 9.1,589 7.8,581 5.6,571 3.7,565 1,559.1Z" fill="#b32318" fill-rule="evenodd"/>
<path d="M1,341 297,341 297,635 13.4,635 12.7,593 12.2,587 11.4,581 9.7,571 8.7,567 7.3,563 5.6,559 4.4,557 2.9,555 1,553.4Z" fill="#c42519" fill-rule="evenodd"/>
<path d="M3.7,341 297,341 297,635 16.7,635 16.5,619 15.9,591 14.7,579 13.3,569 11.7,563 10.2,559 9.2,557 7.8,555 5.4,553 1,550.2 1,355.5 3.4,345 3.7,343Z" fill="#d0281c" fill-rule="evenodd"/>
<path d="M9.2,341 297,341 297,635 20.1,635 19.9,619 19.2,591 18.1,575 17,566.9 16.1,563 14.7,559 13.8,557 12.6,555 10.3,553 7.1,551 3.7,549 1,547.9 1,391.7 2.2,381 3.9,369 6.1,357 8.9,345 9.2,343Z" fill="#d42b1f" fill-rule="evenodd"/>
<path d="M14.4,341 297,341 297,635 23.4,635 23.1,611 22.4,585 21.6,571 21.1,567 20.3,563 18.4,557 17.3,555 15.1,553 8.5,549 1,546 1,424.7 3.7,407 6,387 7.5,377 10.4,361 14.1,345 14.4,343Z" fill="#d72d21" fill-rule="evenodd"/>
<path d="M19.4,341 297,341 297,635 26.6,635 26.4,607 25.7,575 25.2,567 24.1,561 22.9,557 21.9,555 19.8,553 13.4,549 8.1,547 3.4,545 1,542.4 1,442.5 3.4,433 4.9,425 7.7,407 10.1,389 12.1,377 15.3,361 19.2,345 19.4,343Z" fill="#db2f23" fill-rule="evenodd"/>
<path d="M24.1,341 297,341 297,635 29.9,635 29.5,571 29.1,565 27.9,559 26.5,555 24.7,553 21.9,551 18.7,549 8.9,545 7.1,543 5,540.2 3.4,537 2.9,535 1.7,525 1,515.8 1,481.1 2.1,467 4,449 4.7,445 7.4,433 8.1,429 14.6,387 17.8,371 23.9,345Z" fill="#dd3623" fill-rule="evenodd"/>
<path d="M28.4,341 297,341 297,635 33.3,635 33.1,613 33.5,571 33.2,565 32.7,561 31.8,557 31.2,555 29.6,553 27,550.8 24.4,549 15.6,545 12.4,541 11.1,539 10.2,537 9.7,535 9,530.8 7.3,517 6.6,507 6.2,497 6.3,487 6.7,477 8.8,447 11.6,431 14.2,411 17.2,393 19.8,381 27,350.9 28.2,345Z" fill="#e03e22" fill-rule="evenodd"/>
<path d="M32.3,341 297,341 297,635 36.6,635 36.3,625 36.3,615 37.5,571 37.3,565 36.6,559 35.7,555 34.5,553 32.7,551 30.5,549 23.4,545 20.7,541 19.5,539 18.6,537 18.1,535 16.6,527 14.4,513 13.3,501 12.8,491 12.8,481 13.4,449 13.9,443 15.1,433 16.9,415 18.8,403 21.2,391 28.5,363 30.4,355 32.1,345Z" fill="#e24620" fill-rule="evenodd"/>
<path d="M36,341 297,341 297,635 39.9,635 39.5,625 39.6,615 41.5,571 41.4,565 41,561 40.1,555 39.2,553 36.5,549 31.7,545 28.9,539 27.7,535 23.8,517 21.8,505 20.5,493 18.4,447 18.6,439 19.5,421 20.3,413 21.2,407 22.8,399 24.6,391 31,369 33.6,359 35.4,349 35.9,345Z" fill="#e45020" fill-rule="evenodd"/>
<path d="M39.5,341 297,341 297,635 43,635 42.7,625 42.8,617 45,581 45.3,573 45.3,565 44.9,559 44.3,555 43.8,553 42,549 39.3,545 37.5,539 32.2,515 29.9,503 28.5,493 26.5,473 23.4,447 23,439 22.8,429 22.8,423 23.1,417 23.8,411 24.7,405 26,399 28.1,391 34.8,369 37,360.9 38.9,351 39.5,345Z" fill="#e65b20" fill-rule="evenodd"/>
<path d="M43,341 297,341 297,635 45.9,635 45.8,625 46.1,617 48.5,585 49.1,575 49.1,565 48.6,557 48.4,555 47.5,551 47,549 45.6,545 45.2,543 37.3,501 36,493 33.3,473 29,449.4 28,443 26.9,433 26.4,423 26.6,417 26.9,413 27.4,409 28.4,403 31,392.7 37.8,371 40.6,361 41.8,355 42.4,351 42.9,345Z" fill="#e86520" fill-rule="evenodd"/>
<path d="M46.3,341 297,341 297,635 48.6,635 48.7,627 49.2,619 51.8,591 52.6,579 52.8,567 52.1,555 51.5,549 49,531.9 43.8,501 40,475 38.4,467 33.3,445 31.8,437 30.8,429 30.3,421 30.4,415 30.7,411 32,403 34.5,393 41,371.9 44,361 45,356.1 45.8,351 46.3,345Z" fill="#eb7320" fill-rule="evenodd"/>
<path d="M49.5,341 297,341 297,635 51.1,635 51.1,633 52,623 55.2,593 56.1,581 56.3,573 56.2,567 55,545.8 53,528.7 46.4,479 44,467 38.5,445 36.3,435 34.9,425 34.5,417 34.9,409 35.5,405 36.6,399 39.2,389 45,369 47,361.1 47.9,357 49.1,349 49.5,345Z" fill="#ee8120" fill-rule="evenodd"/>
<path d="M52.5,341 297,341 297,635 53.3,635 53.3,633 55.9,617 57.8,603 58.8,593 59.3,585 59.5,577 59.4,569 57.9,545 56.3,527 53.7,495 52.2,481 51.2,475 49.5,467 43,442.2 40.9,433 39.3,423 38.9,415 39.3,407 40.5,399 42.6,389 48.7,365 50.5,357 52.2,347 52.4,345Z" fill="#f08f20" fill-rule="evenodd"/>
<path d="M55.3,341 297,341 297,635 55.4,635 55.5,633 58.3,621 60.8,607 62.2,595 62.7,585 62.7,577 62.4,569 61.1,553 59.5,529 58.9,501 58.6,493 57.5,481 55.8,471 53.5,461 47,437 45.2,429 44.3,423 43.8,419 43.5,411 44,403 45.3,393 47.6,381 54.1,351 55.2,345Z" fill="#f29f20" fill-rule="evenodd"/>
<path d="M58.1,341 297,341 297,635 57.4,635 57.5,633 60.8,623 62.3,617 63.6,611 65.2,601 66,591 66.1,583 65.7,573 63.8,553 62.4,533 62.4,523 63.4,499 63.3,489 62.5,479 60.8,469 58.4,459 51.9,435 50.1,427 48.6,417 48.2,411 48.1,407 48.3,401 48.8,395 50.3,383 52.8,369 57.9,345Z" fill="#f4af20" fill-rule="evenodd"/>
<path d="M60.9,341 297,341 297,635 59.3,635 59.5,633 62.2,627 64.4,621 65.6,617 67.1,611 67.9,607 68.8,601 69.4,595 69.6,589 69.5,583 69,575 66.3,551 65.5,541 65.2,535 65.3,529 65.7,523 67.7,503 68.2,495 68.3,489 67.9,481 66.8,473 64.8,463 62.3,453 57.4,435 55.1,425 53.5,415 52.7,405 52.6,399 52.8,391 53.2,385 54.1,377 55.3,369 56.8,361 58.6,353 60.6,345 60.9,343Z" fill="#f6bf1c" fill-rule="evenodd"/>
<path d="M63.7,341 297,341 297,635 61.4,635 61.6,633 63.9,629 66.7,623 68.3,619 70.3,613 71.7,607 72.4,603 73,597 73.3,591 73.2,585 72.7,577 71.7,569 69,549.4 68.5,543 68.2,537 68.3,531 69,523.3 72.1,503 73,495 73.3,487 72.9,479 71.8,471 69.8,461 67.9,453 62.1,431 59.4,419 57.5,407 56.6,395 56.6,383 57,377 57.6,371 58.9,363 60.1,357 61.6,351 63.4,345 63.7,343Z" fill="#f7cd1c" fill-rule="evenodd"/>
<path d="M66.7,341 297,341 297,635 63.5,635 63.8,633 66.5,629 68.8,625 70.9,621 72.6,617 74,613 75.1,609 76,605 76.8,599 77.3,591 76.9,581 75.7,571 73,554 72.4,549 71.8,543 71.6,537 71.9,531 72.9,523 76.5,505 77.5,499 78.2,493 78.4,487 78.3,483 77.9,477 77.2,471 76.2,465 73.5,453 67.2,429 64.3,417 62,405 60.6,393 60.1,385 60.1,379 60.4,373 61,367 61.9,361 63,355.9 64.9,349 66.3,345 66.7,343Z" fill="#f5d926" fill-rule="evenodd"/>
<path d="M69.8,341 297,341 297,635 65.7,635 66.1,633 69.2,629 71.9,625 74.2,621 76.2,617 77.8,613 79.1,609 80.1,605 81.1,599 81.6,591 81.3,581 80.2,571 76.9,549 76.4,543 76.2,537 76.6,531 77.5,525 81.6,505 82.6,499 83.4,493 83.7,487 83.6,481 83.1,475 82.3,469 80.9,461 78.2,449 71,422.4 67.7,409 65.3,397 64.1,387 63.7,381 63.6,375 63.9,369 64.3,365 65.3,359 66.2,355 68,349 69.4,345 69.8,343Z" fill="#f1dd2c" fill-rule="evenodd"/>
<path d="M73.1,341 297,341 297,635 67.8,635 68.2,633 71.8,629 74.9,625 77.5,621 79.7,617 81.6,613 83,609 84.2,605 85.4,599 85.9,595 86.3,589 86.1,579 85.3,571 82.3,549 81.9,543 81.8,537 82.2,531 83,525.2 86.6,507 88,499 88.7,493 89,487 88.8,479 88.1,471 87,463 85.5,455 83.7,447 81.6,439 74,413 71.2,403 69,392.8 67.6,383 67.1,377 67,373 67.3,367 67.7,363 68.7,357 69.8,353 71.1,349 72.6,345 73.1,343Z" fill="#edde32" fill-rule="evenodd"/>
<path d="M76.4,341 297,341 297,635 69.8,635 70.3,633 74.3,629 77.8,625 80.8,621 84.3,615 86.2,611 87.7,607 89.5,601 90.3,597 90.8,593 91.3,587 91.4,577 90.7,567 88.5,547 88.2,541 88.2,537 88.4,533 89.1,527 92.3,507 93.4,499 94,493 94.3,487 94.2,479 93.5,469 92.2,459 90.3,449 88.4,441 86.1,433 77.5,407 75,399 72.5,389 71.2,381 70.6,375 70.5,371 70.6,367 71,362.2 71.9,357 72.9,353 74.2,349 75.9,345 76.4,343Z" fill="#e9e037" fill-rule="evenodd"/>
<path d="M79.8,341 297,341 297,635 71.8,635 72.4,633 78.9,627 84.1,621 88.1,615 91.1,609 92.7,605 94,601 95.4,595 96.6,587 97.3,577 97.2,567 95.9,547 95.6,537 96.1,527 98.6,503 99.4,493 99.6,481 99,469 98.3,461 97.1,453 95.6,445 94.1,439 92.4,433 90.3,427 82,405 79,396.4 76.3,387 74.8,379 74.1,373 74,369 74.1,365 74.5,361 75.1,357 76.1,353 77.5,349 79.3,345 79.8,343Z" fill="#dfdf42" fill-rule="evenodd"/>
<path d="M83.3,341 297,341 297,635 73.9,635 74.5,633 81.8,627 85.8,623 89.2,619 93.2,613 96.3,607 99.4,599 101.3,591 103,581 103.5,575 103.9,569 104,559 103.4,539 103.4,531 104.7,495 104.9,483 104.7,471 104,461 103,453 102,447 100.7,441 99.1,435 97.1,429 94.8,423 86.4,403 83,394.1 80.2,385 78.5,377 77.8,371 77.6,367 77.8,363 78.2,359 79,355 80.2,351 82.7,345 83.3,343Z" fill="#d4df4e" fill-rule="evenodd"/>
<path d="M86.8,341 297,341 297,635 76.3,635 77,633 79.9,631 85,627 89.5,623 93.2,619 97.7,613 100.1,609 102,605 105.1,597 106.7,591 108,585 109.1,579 109.9,573 110.5,567 111,559 111.1,545 110.2,507 110.2,475 109.8,465 109,455.6 108.1,449 107,443.2 105.5,437 104.2,433 100.5,423 91,401.5 87.5,393 84.7,385 82.7,377 81.8,371 81.6,367 81.6,363 82,359 82.7,355 83.8,351 86.3,345 86.8,343Z" fill="#c9de5a" fill-rule="evenodd"/>
<path d="M90.5,341 297,341 297,635 79.5,635 80.3,633 85,630.1 91,625.6 94.1,623 98.1,619 99.9,617 102.9,613 106.4,607 108.2,603 110.4,597 112.1,591 114,583 115.2,577 116.3,569 117,562.4 117.5,555 117.6,547 117.5,539 115.8,501 115.3,471 114.8,461 114,453 113.1,447 111.9,441 110.8,437 109,431 105,420.8 95.1,399 91.8,391 89,383 87,375.1 86.3,371 85.9,367 85.9,363 86.1,359 87.2,353 88.4,349 90.1,345 90.5,343Z" fill="#bfde65" fill-rule="evenodd"/>
<path d="M94.4,341 297,341 297,635 87.8,635 88.7,633 93,630.3 97,627.4 101,624 104.1,621 105.8,619 108.7,615 111,611 112.8,607 114.2,603 117,593 118.5,587 120.2,579 121.2,573 122.2,565 122.8,557 123.2,549 123.1,535 121.2,501 120.5,471 119.8,461 119,453 117,442 115.2,435 113.9,431 109.3,419 100.5,399 97.3,391 94.5,383 92.3,375 91.1,367 90.9,363 91,359 91.4,355 92.2,351 94,345 94.4,343Z" fill="#b4de6f" fill-rule="evenodd"/>
<path d="M98.5,341 297,341 297,635 105.6,635 106.2,633 111,629 113,626.9 115.9,623 118,619 119,616.4 119.9,613 121,607 121.9,597 124.7,583 125.9,575 126.9,567 127.6,559 128,551 128.2,543 128.1,533 125.7,475 124.7,463 123.5,453 122.4,447 121.1,441 118.3,431 115,421.5 107,401 103.3,391 100.7,383 98.7,375 97.3,367 96.8,359 97,353 97.5,349 98.3,345Z" fill="#a9de79" fill-rule="evenodd"/>
<path d="M102.7,341 297,341 297,635 137.8,635 135.8,629 134,623 130.4,609 128.2,599 128.2,597 130.3,581 131.9,565 132.7,553 133.1,541 132.9,523 131.7,491 130.8,477 129.6,465 127.4,451 125.8,443 124.3,437 121.3,427 114.6,407 111.4,397 108.6,387 106.2,377 104.3,367 103.3,359 102.8,351Z" fill="#9fde84" fill-rule="evenodd"/>
<path d="M106.9,341 297,341 297,635 153,635 152.3,633 147.9,627 145.5,623 141.4,615 137.7,607 134.7,599 134.4,597 137.2,557 137.8,545 138,535 138,519 137.5,501 136.9,489 135.9,477 133.7,461 132.2,453 130.5,445 127.4,433 119.3,405 116.9,395 114.7,385 111.9,371 107.1,345Z" fill="#98dd94" fill-rule="evenodd"/>
<path d="M110.9,341 297,341 297,635 159.4,635 158.8,633 155.9,629 153.3,625 146.8,613 142.4,603 140.9,599 140.5,597 140.7,581 142.7,543 143.4,521 143.4,511 143.2,501 142.6,491 141.8,483 139.8,469 136.7,453 133.9,441 127.7,417 125.8,409 123.8,399 119.9,377 117.8,367 114.7,355 111.3,345 110.9,343Z" fill="#92dca3" fill-rule="evenodd"/>
<path d="M114.9,341 297,341 297,635 163.9,635 163.4,633 160.7,629 158.2,625 156,621 152.2,613 148.3,603 147,599 146.6,597 145.9,585 145.9,573 146.4,561 148.4,529 149,511 148.8,499 147.8,487 146.3,477 143.9,465 134.5,425 132.3,415 130.7,405 127.8,383 126,373 124.5,367 122.7,361 119.5,353 115.5,345 114.9,343Z" fill="#8edcb0" fill-rule="evenodd"/>
<path d="M119.1,341 297,341 297,635 168.2,635 167.9,633 165.3,629 161.9,623 159,617 156.6,611 154.6,605 153.1,599 151.8,591 151.3,585 151,579 151.1,567 151.6,557 153.6,527 154.3,509 154.1,501 153.8,495 153.2,489 152.4,483 149.6,469 140.7,433 137.7,419 136.1,407 134.1,383 133.2,377 132,371 130.3,365 128,359 126.1,355 123.9,351 119.8,345 119.1,343Z" fill="#8ddbb8" fill-rule="evenodd"/>
<path d="M123.9,341 297,341 297,635 173.1,635 172.9,633 169.2,627 167,622.9 164.3,617 162.1,611 160.9,607 159.4,601 157.9,593 157.2,587 156.7,579 156.6,569 158.5,531 159,511 158.9,503 158.5,495 157.9,489 157,482.3 155.6,475 154.3,469 151.7,459 145.5,437 143.6,429 142,421 141.1,415 140.5,409 139.5,383 138.8,377 137.7,371 136.1,365 133.7,359 131.7,355 129.3,351 124.8,345 123.9,343Z" fill="#8cdac0" fill-rule="evenodd"/>
<path d="M129.3,341 297,341 297,635 178.8,635 178.6,633 175,627.3 172.6,623 170.8,619 168.5,613 167.2,609 165.8,603 163.7,591 163,583 162.8,575 163.8,547 163.7,531 163,505 162.2,489 160.9,479 158.8,469 155.4,457 148.4,435 146.3,427 145.2,421 144.4,415 144,409 144,383 143.6,377 143,372.3 141.4,365 139.2,359 137.3,355 134.8,351 130.2,345 129.3,343Z" fill="#8ddac7" fill-rule="evenodd"/>
<path d="M135.1,341 297,341 297,635 184.9,635 184.6,633 181.8,629 179.4,625 177.4,621 175.6,617 173.6,611 171.8,603 170,591 169.5,583 169.5,575 170.4,555 170.2,545 167.4,513 166.7,503 166,487 165.1,479 163.6,471 161.5,463 158.9,455 151.4,435 149.7,429 148.1,421 147.4,415 147.1,407 148,387 148.1,379 147.7,373 146.8,367 145.2,361 143.7,357 140.5,351 137.6,347 136,345 135.1,343Z" fill="#8edacd" fill-rule="evenodd"/>
<path d="M141.2,341 297,341 297,635 190.8,635 190.5,633 187.6,629 183.9,623 181.2,617 179.3,611 178,605 176.7,595 176.2,589 176.1,581 177.6,559 177.5,551 176.5,543 172.8,523 171.1,511 170.2,501 169.8,485 169,477 167.5,469 165.2,461 162.1,453 157,441.3 154.4,435 153,430.7 151.6,425 150.4,417 150.1,409 150.5,401 152.1,381 152.2,375 151.8,369 150.8,363 149,357 146.2,351 143.6,347 142.1,345 141.2,343Z" fill="#90dad3" fill-rule="evenodd"/>
<path d="M147.8,341 297,341 297,635 196.2,635 195.9,633 192.9,629 189.3,623 186.6,617 184.7,611 183.9,607 183.3,603 182.6,595 182.4,589 182.6,583 183.1,577 184.5,565 184.9,559 184.9,555 184.6,551 183.9,547 183,543 177,521.7 174.8,511 174,505 173.6,499 173.6,485 173.4,479 172.9,475 171.8,469 170.1,463 167.9,457 165.2,451 159,438.5 157,433.8 155.3,429 153.9,423 153.2,417 153,409 153.6,401 155.7,385 156.2,379 156.5,373 156.2,367 155.3,361 154.3,357 152,351 149.8,347 148.5,345 147.8,343Z" fill="#88d5d5" fill-rule="evenodd"/>
<path d="M154.4,341 297,341 297,635 201,635 200.7,633 197.7,629 194.2,623 191.6,617 189.8,611 188.8,605 188.2,597 188.2,591 188.7,583 191.1,567 191.7,561 191.8,557 191.6,553 190.8,549 189.1,543 183.8,529 181,520.6 179.4,515 178.2,509 177.3,503 177.1,499 177.6,481 177.4,477 176.6,471 175.7,467 174.5,463 172.2,457 169.3,451 163,439.7 159.8,433 157.8,427 156.5,421 156,415 156.3,407 157,400.6 160.4,379 160.9,373 161,367 160.5,361 159.7,357 157.9,351 155,345 154.4,343Z" fill="#7cced7" fill-rule="evenodd"/>
<path d="M161.1,341 297,341 297,635 205.1,635 204.8,633 202,629 198.7,623 196.2,617 194.5,611 193.6,605 193.2,599 193.3,593 194.1,585 195,579 197.3,567 198,561 198,555 197.4,551 196.3,547 194.8,543 188.6,529 185.4,521 183.4,515 181.9,509 180.9,503 180.7,499 180.8,493 181.6,483 181.7,477 181.1,471 179.7,465 177.6,459 175.8,455 173.6,451 167,440.1 163.3,433 161.1,427 159.9,421 159.4,415 159.5,411 159.8,407 161,398.6 164.8,379 165.6,373 166,367 165.8,361 165,355.3 163.9,351 161.6,345 161.1,343Z" fill="#6ac5da" fill-rule="evenodd"/>
<path d="M167.6,341 297,341 297,635 208.6,635 208.3,633 205.8,629 202.7,623 200.4,617 198.9,611 198,605 197.8,599 198.1,593 198.8,587 199.9,581 202.4,569 203.4,563 203.7,557 203.2,553 202.3,549 200,543 192.3,527 189.6,521 187.4,515 185.7,509 184.6,503 184.4,497 184.6,493 185.9,481 186,475 185.4,469 183.9,463 181.6,457 179.6,453 170.9,439 167.7,433 165.4,427 164.1,421 163.7,417 163.7,413 164.3,405 165.8,397 170.1,377 171,371 171.5,365 171.4,359 170.9,355 169.5,349 168,345 167.6,343Z" fill="#61b6d7" fill-rule="evenodd"/>
<path d="M174.1,341 297,341 297,635 211.2,635 211,633 207.8,627 206,623 204,617 202.6,611 201.8,605 201.8,599 202.3,593 203.3,587 207.1,571 208.3,565 208.8,559 208.6,555 208.3,553 207.2,549 204.8,543 196.5,527 192.8,519 190.6,513 188.9,507 188.1,501 188,497 188.6,491 190,481 190.5,475 190.2,469 189,463 187.7,459 184.9,453 182.6,449 176.3,439 173,433 170.6,427 169.6,423 169,419 168.8,415 168.8,411 169.7,403 171.2,395 175.9,375 176.8,369 177.2,365 177.4,359 177,355 175.9,349 174.6,345 174.1,343Z" fill="#5aa8d2" fill-rule="evenodd"/>
<path d="M180.8,341 297,341 297,635 213.4,635 213.2,633 209.8,625 207.2,617 206.3,613 205.6,609 205.3,603 205.6,597 206.5,591 207.9,585 211.8,571 213.1,565 213.6,559 213.3,555 213,553 211.8,549 210.2,545 207.2,539 201,527.8 197.6,521 195,515 193,509 191.8,503 191.5,497 192.2,491 194.1,481 195,475 195.1,469 194.3,463 193,458.3 190.7,453 188.6,449 181.3,437 178.3,431 176.2,425 175,419 174.7,415 174.6,411 174.9,407 175.6,401 177.2,393 182,373 183,367 183.4,363 183.5,357 183.1,353 182.4,349 181.2,345 180.8,343Z" fill="#559aca" fill-rule="evenodd"/>
<path d="M187.5,341 297,341 297,635 215.4,635 215.3,633 211.9,623 209.8,615 208.9,609 208.6,603 209.1,597 210.3,591 211.9,585 215.6,573 217.2,567 218,561 218,557 217.8,555 216.9,551 214.6,545 211.5,539 204.6,527 201,520.2 197.9,513 196,507 195.1,501 195.1,497 195.9,491 198.7,479 199.8,473 200.1,467 199.8,463 199,459 196.9,453 193.9,447 187.3,435 184.6,429 182.7,423 181.9,419 181.4,415 181.1,411 181.2,407 181.9,399 183.4,391 188.3,371 189.4,365 189.8,361 189.9,357 189.6,353 189,349 187.9,345 187.5,343Z" fill="#4f8fc4" fill-rule="evenodd"/>
<path d="M194.3,341 297,341 297,635 217.4,635 217.3,633 214.2,621 212.9,615 212,609 211.9,603 212.6,597 213.9,591 215.7,585 219.8,573 221.4,567 222.3,561 222.2,557 222,555 221.1,551 218.8,545 215.6,539 207.4,525 204.3,519 201.6,513 199.7,507 199,503.7 198.7,501 198.6,499 198.9,495 200.1,489 203.6,477 204.9,471 205.4,465 205.1,461 204.4,457 202.4,451 200.6,447 193.9,433 191.6,427 190.3,423 189.3,419 188.6,415 188.1,411 187.9,407 187.9,403 188.2,399 188.8,395 190.4,387 194.5,371 195.7,365 196.2,361 196.4,357 196.2,353 195.7,349 194.3,343Z" fill="#4885bf" fill-rule="evenodd"/>
<path d="M201.2,341 297,341 297,635 219.4,635 219.4,633 216.3,617 215.4,611 215.1,605 215.4,601 216,597 217.5,591 223.2,575 225,569 226.2,563 226.4,559 226.3,557 226.1,555 225.2,551 222.9,545 219.8,539 211,524 207.3,517 205.5,513 204.1,509 203,505 202.7,503 202.4,499 202.5,497 203.1,493 204.7,487 209.4,473 210.7,467 210.9,463 210.8,461 210.2,457 208.6,451 207,446.6 200.6,431 197.9,423 195.9,415 194.8,407 194.6,403 194.7,399 195.4,393 197.1,385 201.2,369 202.3,363 202.8,359 202.9,355 202.7,351 201.2,343Z" fill="#4076b8" fill-rule="evenodd"/>
<path d="M208,341 297,341 297,635 221.7,635 221.3,629 218.8,611 218.6,605 218.9,601 219.6,597 221.2,591 227,575 228.9,569 230,563 230.3,559 230.2,557 230,555 229.2,551 227,545 224.1,539 214.8,523 211,515.6 208.4,509 207,503 206.7,499 206.8,497 207.5,493 209.2,487 213.8,475 215.1,471 216,467 216.4,463 216.2,459 215,453 213,446.4 206.6,429 204.2,421 202.3,413 201.2,405 201,401 201.2,397 201.9,391 203.2,385 208,367 208.8,363 209.3,359 209.5,355 209.4,351 208,343Z" fill="#3a67b1" fill-rule="evenodd"/>
<path d="M214.8,341 297,341 297,635 224.4,635 224.2,627 222.6,613 222.3,609 222.3,605 222.6,601 223.4,597 225,591 230.7,575 232.5,569 233.7,563 233.9,557 233.8,555 233.1,551 231.2,545 227.5,537 218.8,521 215.9,515 214.3,511 213.1,507 212.3,503 212.1,501 212.1,497 213,492 214.5,487 218.4,477 220.4,471 221.3,467 221.7,463 221.5,459 220.4,453 218.6,447 212.5,429 210.1,421 208.3,413 207.3,405 207.1,401 207.2,397 208,391 209.4,385 214.3,367 215.8,359 216.1,355 216,351 214.8,343Z" fill="#3a61ad" fill-rule="evenodd"/>
<path d="M221.8,341 297,341 297,635 227.5,635 227.7,627 226.2,609 226.2,605 226.5,601 227.2,597 228.8,591 233.5,577 235.8,569 237,563 237.3,557 236.7,551 235,544.4 232.2,537 224.7,521 221.4,513 219.6,507 219,503.9 218.7,501 218.8,497 219.4,493 221,487 224.5,477 225.7,473 226.6,469 227,465 227,463 226.6,459 225.3,453 218.1,431 215.3,421 213.9,413 213.2,405 213.2,401 213.5,397 214.3,391 216.2,383 220.8,367 222.4,359 222.8,355 222.8,351 221.8,343Z" fill="#3a5baa" fill-rule="evenodd"/>
<path d="M228.9,341 297,341 297,635 230.8,635 231.2,627 230.2,609 230.2,605 230.5,601 231.1,597 232.5,591 237,576.2 239,568.3 240.2,561 240.3,555 239.8,549 238.1,541 235.7,533 229.5,515 227.9,509 227.1,505 226.7,499 227.1,495 228.3,489 231.8,475 232.5,469 232.5,465 232,461 230.6,455 224.4,437 221.5,427 220.6,423 219.9,419 219.2,409 219.5,401 220.6,393 223.3,381 227.4,367 229.1,359 229.6,355 229.7,351 228.9,343Z" fill="#3a58aa" fill-rule="evenodd"/>
<path d="M236.1,341 297,341 297,635 234.3,635 234.8,629 234.9,625 234.2,607 234.3,603 234.7,599 236.1,591 239.9,577 242.1,567 242.8,563 243.2,559 243.3,551 242.8,545 242.1,539 237.5,513 236.7,507 236.4,503 236.5,497 238.4,481 238.8,477 238.7,471 238.3,467 237.6,463 235.9,457 229.9,441 226.8,431 225.5,425 224.9,421 224.7,413 225.2,405 226.8,395 230,381 234.2,367 235.9,359 236.5,355 236.7,351Z" fill="#3b55a9" fill-rule="evenodd"/>
<path d="M243.2,341 297,341 297,635 238.1,635 238.8,625 238.4,605 238.9,597 240.2,589 241.7,583 244.6,569 245.6,563 246.2,557 246.6,549 246.7,537 246.6,503 246.9,491 246.8,485 246.1,477 245.5,473 244.5,469 243.4,465 241.4,459 234.8,443 232.1,435 230.2,427 229.7,423 229.5,419 230.3,409 231.8,401 235.4,387 236.6,381 240.9,367 242.7,359 243.3,355 243.5,351Z" fill="#3b53a9" fill-rule="evenodd"/>
<path d="M250,341 297,341 297,635 242.2,635 242.8,627 243,623 242.8,603 243.2,595 244,589 244.8,585 248.4,563 251,541.8 254.8,517 255.7,507 255.8,495 255.6,491 255,487 253.8,481 252.9,477 251,471 248.7,465 246.2,459 240.7,447 237.6,439 236.4,435 235,429 234.5,425 234.3,421 235.1,413 236.6,405 238.7,397 241.6,387 243.1,381 247,368.4 248.9,361 249.9,355 250.2,351Z" fill="#3b50a9" fill-rule="evenodd"/>
<path d="M256.6,341 297,341 297,635 246.6,635 247.3,627 247.6,621 247.5,599 247.7,593 248,589 249.5,575 251,565 253.4,551 255.2,543 260.6,523 262.3,515 263.4,507 263.6,499 263,493 262.3,489 260.7,483 259,477.7 257.2,473 254.6,467 245.3,447 242.9,441 241.6,437 240.5,433 239.8,429 239.3,425 239.3,421 240.2,413 241.9,405 244.2,397 253,369.3 255.1,361 256.2,355 256.6,351Z" fill="#3c4ea8" fill-rule="evenodd"/>
<path d="M262.8,341 297,341 297,635 251.6,635 252.5,625 252.8,617 252.4,583 252.8,575 253.5,569 255,560.6 257,552.6 259,545.8 265.3,527 268.1,517 268.9,513 269.5,509 269.9,505 269.9,501 269.6,497 269,492.9 267,485.3 265.5,481 261,470.4 252,451 249.6,445 247.5,439 245.9,433 245.2,429 244.8,425 244.8,419 245.1,415 245.7,411 246.5,407 248,401 250.6,393 257.7,373 259.6,367 261.1,361 262.2,355 262.7,351 262.9,347Z" fill="#3c4ba8" fill-rule="evenodd"/>
<path d="M268.7,341 297,341 297,635 257.3,635 258.4,621 258.6,609 258.3,597 257.4,589 256.5,585 256.2,581 256.2,575 256.7,569 257.4,565 258.3,561 268,535 271.8,523 273,518.5 274.1,513 274.8,507 275,503 274.7,499 274,495 273,491 271.1,485 267,474.7 259.3,457 254.7,443 252.7,435 251.5,429 251,425 250.2,415 250.5,411 251.5,405 253.6,397 257.2,387 260.2,381 261,379 263.9,371 266.3,363 267.6,357 268.5,351 268.7,347Z" fill="#3d49a7" fill-rule="evenodd"/>
<path d="M274.3,341 297,341 297,635 263.9,635 264.7,625 265.1,617 265.2,607 265,599 264.4,595 263.4,591 262.7,589 260.6,585 260.2,583 259.6,577 259.7,571 260.7,565 261.1,563 261.8,561 266.2,553 269.8,545 272.1,539 275,529.8 277,522.1 278.4,515 279.1,509 279.2,503 279.1,501 278.3,497 275.3,487 269.8,473 263.9,457 261.9,447 260.3,437 257.6,423 255.2,415 255.2,411 255.4,407 255.9,403 256.8,399 258,395 261.2,387 265.1,381 266,379 269.1,371 271.7,363 273.1,357 274,351 274.3,347Z" fill="#3d46a6" fill-rule="evenodd"/>
<path d="M279.7,341 297,341 297,635 271.3,635 272.1,623 272.4,615 272.5,607 272.2,599 271.2,595 269.6,591 268.5,589 264.9,585 263.7,581 262.9,575 262.8,573 263.2,569 264.5,563 265.4,561 267,558.8 270.2,555 271.5,553 275.6,545 277.3,541 279.4,533 281.1,525 282.4,517 283,511 283.2,507 283.2,503 282.9,501 281.9,497 278.6,487 273.1,473 268.8,459 268.4,457 268.2,455 268.3,439 268.2,437 267.5,433 264.7,423 263.8,421 261.2,417 260.2,415 259.9,413 259.6,409 259.6,405 260,401 261,397 262.3,393 264.9,387 269.9,381 270.9,379 274.2,371 276.9,363 278.4,357 279.3,351 279.6,347Z" fill="#3d43a5" fill-rule="evenodd"/>
<path d="M284.9,341 297,341 297,635 279.2,635 280,615 280,605 279.8,599 279.3,597 278.5,595 276.1,591 274.6,589 271,586.4 269.3,585 269,584.4 268.3,583 267,579 266.3,575 266.2,573 266.5,569 268,563 269.1,561 271,559 275.4,555 277.1,553 281.7,545 283.2,541 285,531 286.3,521 286.9,513 287.1,505 286.6,501 285.4,497 281.8,487 277.7,477 276.3,473 273.1,459 272.9,457 273.1,455 274.6,449 276.3,439 276.4,437 275.8,433 274.6,429 272.1,423 270.7,421 267,417.2 265.3,415 264.6,413 263.9,409 263.5,405 263.5,403 263.7,401 264.5,397 265.8,393 267.6,389 269,386.6 274.5,381 277.4,375 280.6,367 283,359 284.2,353 284.8,347Z" fill="#3e41a4" fill-rule="evenodd"/>
<path d="M290,341 297,341 297,635 286.9,635 287.3,615 287.2,599 286.6,597 285.6,595 282.7,591 280.7,589 274,585 272.6,583 270.9,579 270,575 269.8,573 270.1,569 270.5,567 271.7,563 273,561 275.4,559 280.9,555 282.8,553 286.7,547 288.5,543 289.1,541 289.3,539 290.4,527 290.9,517 291,509 290.7,503 289.6,499 281,477.2 279.7,473 279.2,471 277.5,459 277.5,457 278.1,455 280.8,449 283.6,441 284.1,439 284.3,437 284.2,435 283.8,433 282.5,429 279.5,423 277.6,421 272.5,417 270.5,415 269.5,413 269,411.5 267.9,407 267.5,403 267.5,401 267.7,399 268.8,395 271.3,389 272.4,387 279.2,381 280.4,379 282.3,375 285.6,367 288.1,359 289.3,353 289.9,347Z" fill="#3f3aa3" fill-rule="evenodd"/>
<path d="M295,341 297,341 297,635 293.9,635 294,601 293.9,599 293.3,597 292.2,595 290.8,593 289,591 286.8,589 278.8,585 277.3,583 275.2,579 274,575 273.7,573 274,569 275,565 275.7,563 277.3,561 280,559 286.4,555 288.5,553 291.2,549 293.5,545 294.2,543 294.7,541 294.8,539 295.1,527 295.1,517 294.9,507 294.6,503 293.4,499 289.9,491 285.1,479 283.8,475 282.9,471 282.2,459 282.4,457 283.2,455 286.9,449 290.5,441 291.2,439 291.5,437 291.5,435 291.2,433 289.7,429 286.4,423 284.3,421 278.3,417 277,416 275.9,415 275,413.6 273.8,411 272.4,407 271.7,403 271.6,401 271.8,399 272.7,395 275.3,389 276.5,387 284.1,381 286.3,377 289.9,369 292.6,361 294,355 294.8,349Z" fill="#4033a1" fill-rule="evenodd"/>
<path d="M1,444.5 3.9,433 4.7,429 7,415 10.3,391 11.9,381 15.4,363 19.7,345 20,343 20,341M27,635 26.7,605 26.1,573 25.9,569 25.4,565 24,559 23.4,557 22.4,555 20.4,553 17.4,551 14,549 8.7,547 4,545 2.1,543 1,541.6M49.2,635 49.3,629 49.8,621 52.6,591 53.4,579 53.6,573 53.6,567 53,555 52.4,549 50.9,537 45.4,503 41.6,477 39.6,467 34.5,445 32.6,435 31.5,427 31.2,419 31.4,413 31.8,409 32.8,403 33.7,399 36.4,389 43,367.6 45.1,359 46.2,353 46.8,349 47,345 47.1,341M64.3,635 64.6,633 67.4,629 69.9,625 72,621 74.5,615 75.9,611 76.9,607 77.7,603 78.2,599 78.7,591 78.6,587 78.3,581 77.4,573 73.7,549 73.2,543 73,537 73.3,531 74.1,525 75.2,519 78.1,505 79.2,499 79.9,493 80.2,487 80.1,483 79.7,477 79,471 78,465 75.4,453 68.5,427 65.6,415 63.3,403 62.4,397 61.7,391 61.3,385 61.2,379 61.4,373 62,367 62.9,361 63.7,357 65.3,351 67.3,345 67.7,343 67.7,341M82,635 82.8,633 87,630.6 91,627.8 95,624.7 99.1,621 102.8,617 104.3,615 106.9,611 109.1,607 111.5,601 113.4,595 115.5,587 116.8,581 117.9,575 119,567 119.6,561 120.1,553 120.2,545 120.1,537 118.2,501 117.6,469 117.1,461 116.3,453 115.4,447 114.1,441 113,436.6 111,430.3 107,420.1 97.5,399 94.2,391 91.4,383 89.2,375 88.5,371 88.1,367 88,363 88.2,359 89.1,353 90.2,349 91.8,345 92.2,343 92.2,341M170.8,635 170.5,633 167,627.3 164.7,623 161.9,617 159.6,611 158.3,607 156.8,601 155.6,595 154.8,589 154.1,579 154.1,567 154.6,557 156.4,527 156.8,517 157,509 156.8,501 156.5,495 155.9,489 155,482.6 153.6,475 152.2,469 143.8,437 142,429 140.4,421 139.4,415 138.6,407 137.6,389 137.2,383 136.4,377 135.3,371 133.6,365 131.2,359 129.2,355 126.9,351 122.5,345 121.7,343 121.7,341M207.5,635 207.3,633 203.4,627 201.4,623 199.7,619 198.4,615 197.5,611 196.8,607 196.5,603 196.3,599 196.4,595 197.2,587 198.2,581 201,567 201.8,561 201.9,557 201.7,555 201.1,551 199.9,547 198.3,543 191.7,529 188.2,521 186.1,515 184.4,509 183.4,503 183.1,497 183.3,493 184.5,481 184.5,475 183.8,469 182.3,463 180,457 177.9,453 169.3,439 166.1,433 165,430.5 163.8,427 163,423.8 162.5,421 162.2,417 162.1,413 162.3,409 162.8,405 163.8,399 168.4,377 169.2,371 169.6,365 169.4,359 168.9,355 167.4,349 165.9,345 165.5,343 165.5,341M223.7,635 223.7,631 223.5,627 221.8,613 221.5,609 221.5,605 221.8,601 222.5,597 224.2,591 229.9,575 231.7,569 232.9,563 233.2,559 233.2,557 233,555 232.2,551 230.3,545 228.5,541 226.5,537 217.6,521 214.6,515 213,511 211.8,507 211,503.2 210.8,501 210.8,497 211.1,495 212,491 213.2,487 217.9,475 219.2,471 220.1,467 220.5,463 220.3,459 219.2,453 217.5,447 211.9,431 209.4,423 207.8,417 207,413 206.4,409 205.9,405 205.8,401 205.9,397 206.7,391 208.5,383 212.9,367 213.7,363 214.3,359 214.6,355 214.5,351 214.3,349 213.3,343 213.3,341M251,635 251.9,625 252.2,617 251.9,591 252,583 252.5,575 253.1,569 255,558.8 257,550.8 259,544.1 264.7,527 267,518.9 268.3,513 268.9,509 269.2,505 269.3,501 269,496.8 268,491 266.9,487 264.9,481 261,471.5 251.4,451 248.9,445 246.8,439 245.2,433 244.5,429 244.1,425 244.1,421 244.3,417 244.8,413 245.5,409 247,403 250.1,393 257.1,373 258.9,367 260.5,361 261.6,355 262,351 262.2,347 262.1,341M297,430.9 295.2,427 292.9,423 290.7,421 284.3,417 283,416 281.7,415 281,414 280.3,413 279.3,411 277.7,407 277,404.6 276.5,401 276.6,399 276.9,397 277.5,395 279,391 280,389 281.3,387 283.8,385 286.8,383 289.3,381 290.5,379 293.3,373 295.7,367 297,363.1M297,497.9 293.9,491 289.2,479 287.9,475 287.2,471 287.2,459 287.6,457 288.6,455 292.7,449 295.9,443 297,440.5M297,593.4 294.9,591 292.6,589 284.1,585 282.4,583 281,580.8 279.2,577 278.7,575 278.4,573 278.4,571 279,567 280.4,563 282.1,561 285.1,559 291.8,555 294,553 297,548.5" fill="none" stroke="#000" stroke-width="0.6" stroke-opacity="0.85"/>
</g>
<rect x="307.3" y="343.90" width="8.7" height="289.60" fill="#4033a1"/>
<rect x="307.3" y="348.42" width="8.7" height="285.08" fill="#3f3aa3"/>
<rect x="307.3" y="352.95" width="8.7" height="280.55" fill="#3e41a4"/>
<rect x="307.3" y="357.47" width="8.7" height="276.03" fill="#3d43a5"/>
<rect x="307.3" y="362.00" width="8.7" height="271.50" fill="#3d46a6"/>
<rect x="307.3" y="366.52" width="8.7" height="266.98" fill="#3d49a7"/>
<rect x="307.3" y="371.05" width="8.7" height="262.45" fill="#3c4ba8"/>
<rect x="307.3" y="375.57" width="8.7" height="257.93" fill="#3c4ea8"/>
<rect x="307.3" y="380.10" width="8.7" height="253.40" fill="#3b50a9"/>
<rect x="307.3" y="384.62" width="8.7" height="248.88" fill="#3b53a9"/>
<rect x="307.3" y="389.15" width="8.7" height="244.35" fill="#3b55a9"/>
<rect x="307.3" y="393.67" width="8.7" height="239.83" fill="#3a58aa"/>
<rect x="307.3" y="398.20" width="8.7" height="235.30" fill="#3a5baa"/>
<rect x="307.3" y="402.73" width="8.7" height="230.77" fill="#3a61ad"/>
<rect x="307.3" y="407.25" width="8.7" height="226.25" fill="#3a67b1"/>
<rect x="307.3" y="411.77" width="8.7" height="221.73" fill="#4076b8"/>
<rect x="307.3" y="416.30" width="8.7" height="217.20" fill="#4885bf"/>
<rect x="307.3" y="420.82" width="8.7" height="212.68" fill="#4f8fc4"/>
<rect x="307.3" y="425.35" width="8.7" height="208.15" fill="#559aca"/>
<rect x="307.3" y="429.88" width="8.7" height="203.62" fill="#5aa8d2"/>
<rect x="307.3" y="434.40" width="8.7" height="199.10" fill="#61b6d7"/>
<rect x="307.3" y="438.92" width="8.7" height="194.58" fill="#6ac5da"/>
<rect x="307.3" y="443.45" width="8.7" height="190.05" fill="#7cced7"/>
<rect x="307.3" y="447.98" width="8.7" height="185.52" fill="#88d5d5"/>
<rect x="307.3" y="452.50" width="8.7" height="181.00" fill="#90dad3"/>
<rect x="307.3" y="457.02" width="8.7" height="176.48" fill="#8edacd"/>
<rect x="307.3" y="461.55" width="8.7" height="171.95" fill="#8ddac7"/>
<rect x="307.3" y="466.07" width="8.7" height="167.43" fill="#8cdac0"/>
<rect x="307.3" y="470.60" width="8.7" height="162.90" fill="#8ddbb8"/>
<rect x="307.3" y="475.12" width="8.7" height="158.38" fill="#8edcb0"/>
<rect x="307.3" y="479.65" width="8.7" height="153.85" fill="#92dca3"/>
<rect x="307.3" y="484.17" width="8.7" height="149.33" fill="#98dd94"/>
<rect x="307.3" y="488.70" width="8.7" height="144.80" fill="#9fde84"/>
<rect x="307.3" y="493.23" width="8.7" height="140.27" fill="#a9de79"/>
<rect x="307.3" y="497.75" width="8.7" height="135.75" fill="#b4de6f"/>
<rect x="307.3" y="502.27" width="8.7" height="131.23" fill="#bfde65"/>
<rect x="307.3" y="506.80" width="8.7" height="126.70" fill="#c9de5a"/>
<rect x="307.3" y="511.32" width="8.7" height="122.18" fill="#d4df4e"/>
<rect x="307.3" y="515.85" width="8.7" height="117.65" fill="#dfdf42"/>
<rect x="307.3" y="520.38" width="8.7" height="113.12" fill="#e9e037"/>
<rect x="307.3" y="524.90" width="8.7" height="108.60" fill="#edde32"/>
<rect x="307.3" y="529.42" width="8.7" height="104.08" fill="#f1dd2c"/>
<rect x="307.3" y="533.95" width="8.7" height="99.55" fill="#f5d926"/>
<rect x="307.3" y="538.48" width="8.7" height="95.02" fill="#f7cd1c"/>
<rect x="307.3" y="543.00" width="8.7" height="90.50" fill="#f6bf1c"/>
<rect x="307.3" y="547.52" width="8.7" height="85.98" fill="#f4af20"/>
<rect x="307.3" y="552.05" width="8.7" height="81.45" fill="#f29f20"/>
<rect x="307.3" y="556.58" width="8.7" height="76.92" fill="#f08f20"/>
<rect x="307.3" y="561.10" width="8.7" height="72.40" fill="#ee8120"/>
<rect x="307.3" y="565.62" width="8.7" height="67.88" fill="#eb7320"/>
<rect x="307.3" y="570.15" width="8.7" height="63.35" fill="#e86520"/>
<rect x="307.3" y="574.67" width="8.7" height="58.83" fill="#e65b20"/>
<rect x="307.3" y="579.20" width="8.7" height="54.30" fill="#e45020"/>
<rect x="307.3" y="583.73" width="8.7" height="49.77" fill="#e24620"/>
<rect x="307.3" y="588.25" width="8.7" height="45.25" fill="#e03e22"/>
<rect x="307.3" y="592.77" width="8.7" height="40.73" fill="#dd3623"/>
<rect x="307.3" y="597.30" width="8.7" height="36.20" fill="#db2f23"/>
<rect x="307.3" y="601.83" width="8.7" height="31.67" fill="#d72d21"/>
<rect x="307.3" y="606.35" width="8.7" height="27.15" fill="#d42b1f"/>
<rect x="307.3" y="610.88" width="8.7" height="22.62" fill="#d0281c"/>
<rect x="307.3" y="615.40" width="8.7" height="18.10" fill="#c42519"/>
<rect x="307.3" y="619.92" width="8.7" height="13.58" fill="#b32318"/>
<rect x="307.3" y="624.45" width="8.7" height="9.05" fill="#9f2118"/>
<rect x="307.3" y="628.98" width="8.7" height="4.52" fill="#911f16"/>
<path d="M418.5,109.4 419.7,109.1 420.9,109.3 422.1,109.2 423.3,108.6 424.5,108.6 425.7,109.3 426.9,109.5 428.1,108.8 429.3,108.5 430.5,109.2 431.7,109.8 432.9,109.5 434.1,109.2 435.3,109.6 436.5,109.5 437.7,108.7 438.9,108.4 440.1,109.3 441.3,109.4 442.5,108.6 443.7,108.7 444.9,109.7 446.1,109.8 447.3,108.8 448.5,108.5 449.7,109.4 450.9,109.6 452.1,108.9 453.3,108.7 454.5,109.7 455.7,110.1 456.9,109.0 458.1,108.3 459.3,108.8 460.5,109.0 461.7,108.6 466.0,108.5 470.0,106.5 474.0,104.5 474.0,113.5 470.0,116.0 466.0,117.5 461.7,117.1 460.5,116.8 459.3,117.8 458.1,117.3 456.9,117.3 455.7,118.7 454.5,118.1 453.3,117.3 452.1,118.0 450.9,117.7 449.7,117.4 448.5,118.0 447.3,117.6 446.1,117.4 444.9,118.5 443.7,117.9 442.5,116.9 441.3,117.8 440.1,118.0 438.9,117.0 437.7,117.7 436.5,117.9 435.3,117.5 434.1,118.4 432.9,118.6 431.7,117.5 430.5,117.6 429.3,117.9 428.1,117.2 426.9,117.6 425.7,118.1 424.5,117.3 423.3,117.4 422.1,117.8 420.9,117.3 419.7,117.9 418.5,118.7Z" fill="#c6c6c6"/>
<path d="M484.0,105.5 487.0,105.5 490.0,108.0 497.5,108.9 498.7,109.8 499.9,109.3 501.1,108.4 502.3,108.9 503.5,109.4 504.7,108.9 505.9,108.4 507.1,108.7 508.3,109.4 509.5,109.1 510.7,108.2 511.9,108.7 513.1,109.9 514.3,109.9 515.5,109.3 516.7,109.5 517.9,109.9 519.1,109.5 520.3,108.6 521.5,108.5 522.7,109.0 523.9,109.1 525.1,109.0 526.3,109.3 527.5,109.9 528.7,109.8 529.9,108.9 531.1,108.8 532.3,109.5 533.5,109.4 534.7,109.0 535.9,109.2 537.1,109.6 538.3,109.6 539.5,109.1 540.7,109.3 541.9,109.9 543.1,109.8 544.3,109.1 545.5,108.8 546.7,109.4 547.9,109.6 549.1,108.8 550.3,108.8 551.5,109.6 552.7,109.5 553.9,109.0 555.1,109.1 556.3,109.5 557.5,109.1 558.7,108.1 559.9,108.2 561.1,109.2 562.3,109.4 563.5,108.8 564.7,108.8 565.9,109.5 567.1,109.9 568.3,109.4 569.5,109.1 570.7,110.1 571.9,110.8 573.1,110.0 574.3,109.2 575.5,110.0 576.7,110.5 577.9,109.8 579.1,109.2 580.3,109.3 581.5,109.4 582.7,108.7 583.9,108.1 585.1,108.3 586.3,108.2 587.5,107.5 588.7,107.2 589.9,107.8 591.1,108.4 592.3,108.2 593.5,107.9 594.7,108.7 595.9,109.4 597.1,108.9 598.3,108.5 599.5,108.9 600.7,109.2 601.9,109.0 603.1,108.8 604.3,109.3 605.5,109.7 606.7,108.9 607.9,108.4 609.1,109.4 610.3,110.2 611.5,109.5 612.7,108.7 613.9,109.3 615.1,109.6 616.3,109.1 617.5,108.8 618.7,109.0 619.9,109.2 621.1,108.8 622.3,108.6 623.5,109.4 624.7,109.9 625.9,109.3 627.1,108.8 628.3,109.3 629.5,109.8 630.7,109.4 631.9,108.8 633.1,109.1 634.3,109.7 635.5,109.1 636.7,108.6 637.9,109.2 639.1,109.7 640.3,109.1 641.5,108.6 642.7,109.2 643.9,109.8 645.1,109.2 646.3,108.6 647.5,108.9 648.7,109.7 649.9,109.8 651.1,108.8 652.3,108.9 653.5,109.7 654.7,109.3 655.9,108.8 657.1,109.2 658.3,109.6 659.5,109.1 660.7,108.5 661.9,108.8 663.1,109.2 664.3,108.9 665.5,108.7 666.7,109.3 667.9,109.9 667.9,117.6 666.7,118.4 665.5,117.9 664.3,116.8 663.1,117.5 661.9,117.8 660.7,117.1 659.5,117.8 658.3,118.0 657.1,117.5 655.9,118.0 654.7,118.1 653.5,117.4 652.3,117.7 651.1,118.3 649.9,117.8 648.7,117.7 647.5,118.1 646.3,117.3 645.1,117.6 643.9,118.4 642.7,117.6 641.5,117.5 640.3,118.2 639.1,117.6 637.9,117.6 636.7,118.2 635.5,117.5 634.3,117.5 633.1,118.3 631.9,117.8 630.7,117.6 629.5,118.4 628.3,117.9 627.1,117.5 625.9,118.3 624.7,118.1 623.5,117.5 622.3,118.1 621.1,117.6 619.9,116.8 618.7,117.9 617.5,118.1 616.3,117.2 615.1,117.9 613.9,118.1 612.7,117.3 611.5,118.3 610.3,118.7 609.1,117.4 607.9,117.6 606.7,118.0 605.5,117.3 604.3,117.8 603.1,118.3 601.9,117.3 600.7,117.2 599.5,117.9 598.3,117.2 597.1,117.4 595.9,118.0 594.7,116.9 593.5,116.8 592.3,117.4 591.1,116.3 589.9,115.9 588.7,116.7 587.5,116.1 586.3,116.0 585.1,117.2 583.9,117.1 582.7,117.1 581.5,118.0 580.3,117.8 579.1,117.8 577.9,119.0 576.7,118.7 575.5,117.9 574.3,118.6 573.1,119.0 571.9,118.5 570.7,118.7 569.5,118.4 568.3,117.7 567.1,118.2 565.9,118.2 564.7,117.3 563.5,117.8 562.3,117.9 561.1,117.1 559.9,117.2 558.7,117.4 557.5,116.8 556.3,117.8 555.1,118.5 553.9,117.5 552.7,117.6 551.5,118.4 550.3,117.5 549.1,117.5 547.9,118.3 546.7,117.4 545.5,117.5 544.3,118.5 543.1,117.9 541.9,117.8 540.7,118.7 539.5,118.0 538.3,117.5 537.1,118.3 535.9,118.2 534.7,117.6 533.5,118.0 532.3,117.8 531.1,117.3 529.9,118.2 528.7,118.2 527.5,117.6 526.3,118.5 525.1,118.2 523.9,116.9 522.7,117.5 521.5,117.7 520.3,117.2 519.1,118.0 517.9,118.5 516.7,117.9 515.5,118.3 514.3,118.6 513.1,117.6 511.9,117.6 510.7,117.7 509.5,117.1 508.3,117.5 507.1,118.0 505.9,117.1 504.7,117.1 503.5,118.1 502.3,117.4 501.1,117.3 499.9,118.2 498.7,117.7 497.5,117.4 494.0,119.0 491.5,121.5 488.0,118.0 484.0,115.0Z" fill="#c6c6c6"/>
<path d="M418.5,114.0 419.7,113.8 420.9,113.4 422.1,113.1 423.3,113.2 424.5,113.4 425.7,113.4 426.9,113.3 428.1,113.4 429.3,113.2 430.5,113.3 431.7,113.7 432.9,114.0 434.1,114.0 435.3,113.7 436.5,113.4 437.7,113.2 438.9,113.2 440.1,113.4 441.3,113.2 442.5,113.1 443.7,113.5 444.9,113.8 446.1,113.6 447.3,113.2 448.5,113.3 449.7,113.5 450.9,113.4 452.1,113.3 453.3,113.4 454.5,113.9 455.7,113.9 456.9,113.4 458.1,113.1 459.3,113.0 460.5,112.8 461.7,113.0 466.0,113.0 469.0,111.5 471.0,109.6 473.0,108.8 474.8,108.2 475.6,100.0 476.9,38.2 477.3,38.2 478.4,70.0 479.3,130.0 481.0,248.5 482.6,140.0 483.4,118.0 484.2,111.5 485.2,109.9 487.0,110.0 488.5,111.0 490.0,114.0 491.2,116.4 492.3,116.8 493.4,115.5 494.5,113.9 496.0,113.4 497.5,113.4 498.7,113.6 499.9,113.4 501.1,113.2 502.3,113.4 503.5,113.3 504.7,113.0 505.9,113.1 507.1,113.2 508.3,113.2 509.5,113.2 510.7,113.0 511.9,113.3 513.1,113.8 514.3,113.9 515.5,114.0 516.7,114.0 517.9,113.8 519.1,113.5 520.3,113.4 521.5,113.1 522.7,112.9 523.9,113.1 525.1,113.7 526.3,113.9 527.5,113.8 528.7,113.8 529.9,113.6 531.1,113.5 532.3,113.4 533.5,113.3 534.7,113.7 535.9,113.9 537.1,113.6 538.3,113.6 539.5,113.8 540.7,113.9 541.9,113.9 543.1,113.8 544.3,113.7 545.5,113.5 546.7,113.4 547.9,113.5 549.1,113.4 550.3,113.5 551.5,113.6 552.7,113.4 553.9,113.6 555.1,113.8 556.3,113.5 557.5,113.0 558.7,112.6 559.9,112.9 561.1,113.2 562.3,113.3 563.5,113.3 564.7,113.5 565.9,113.6 567.1,113.8 568.3,113.9 569.5,113.8 570.7,114.1 571.9,114.7 573.1,114.5 574.3,114.0 575.5,114.1 576.7,114.3 577.9,114.3 579.1,113.9 580.3,113.4 581.5,113.2 582.7,113.2 583.9,112.9 585.1,112.4 586.3,112.1 587.5,112.0 588.7,112.0 589.9,111.9 591.1,112.2 592.3,112.6 593.5,112.7 594.7,112.9 595.9,113.2 597.1,113.3 598.3,113.3 599.5,113.1 600.7,113.0 601.9,113.4 603.1,113.6 604.3,113.5 605.5,113.5 606.7,113.3 607.9,113.2 609.1,113.6 610.3,114.0 611.5,113.8 612.7,113.5 613.9,113.5 615.1,113.4 616.3,113.4 617.5,113.6 618.7,113.3 619.9,113.0 621.1,113.1 622.3,113.4 623.5,113.7 624.7,113.7 625.9,113.6 627.1,113.6 628.3,113.7 629.5,113.6 630.7,113.7 631.9,113.6 633.1,113.5 634.3,113.5 635.5,113.4 636.7,113.4 637.9,113.6 639.1,113.5 640.3,113.4 641.5,113.4 642.7,113.6 643.9,113.6 645.1,113.4 646.3,113.4 647.5,113.3 648.7,113.5 649.9,113.9 651.1,113.6 652.3,113.3 653.5,113.5 654.7,113.5 655.9,113.6 657.1,113.7 658.3,113.4 659.5,113.3 660.7,113.3 661.9,113.2 663.1,113.0 664.3,113.0 665.5,113.4 666.7,113.8 667.9,113.8" fill="none" stroke="#000" stroke-width="1.8" stroke-linejoin="round" stroke-linecap="round"/>
<path d="M618.2,227.1H643.3V185.9" fill="none" stroke="#000" stroke-width="1.7"/>
<path d="M430.0,479.0 431.5,478.6 433.0,478.2 434.3,476.6 435.8,475.2 437.0,475.8 438.5,476.6 440.0,477.0 441.5,477.6 442.8,476.4 443.5,479.0 445.0,481.6 446.5,481.4 448.0,480.9 450.0,480.4 451.0,479.6 452.0,479.8 453.3,477.8 454.2,476.5 454.8,354.5 455.4,480.0 455.6,609.0 456.3,500.0 457.3,481.0 458.0,477.5 458.9,476.1 461.0,475.5 463.8,475.6 467.0,476.2 471.0,477.0 475.0,477.5 479.0,477.8 481.0,478.0 483.0,478.0 485.0,477.9 487.0,477.8 489.0,477.7 491.0,477.7 493.0,477.8 495.0,477.9 497.0,477.9 499.0,477.9 501.0,477.8 503.0,477.8 505.0,477.8 507.0,477.9 509.0,477.9 511.0,478.0 513.0,478.0 515.0,478.1 517.0,477.9 519.0,477.8 521.0,477.9 523.0,477.9 525.0,477.9 527.0,478.0 529.0,478.0 531.0,478.1 533.0,478.0 535.0,478.0 537.0,477.9 539.0,477.9 541.0,477.9 543.0,478.0 545.0,478.0 547.0,478.0 549.0,478.0 551.0,477.9 553.0,478.0 555.0,478.0 557.0,477.9 559.0,477.9 561.0,477.9 563.0,477.8 565.0,477.9 567.0,478.0 569.0,478.0 571.0,477.9 573.0,477.8 575.0,477.8 577.0,477.9 579.0,478.0 581.0,478.0 583.0,478.0 585.0,477.9 587.0,478.0 589.0,478.1 591.0,478.1 593.0,478.2 595.0,478.3 597.0,477.8 599.0,476.7 601.0,476.2 603.0,476.7 605.0,477.6 607.0,478.3 609.0,478.6 611.0,478.7 613.0,478.5 615.0,478.2 617.0,478.1 619.0,478.0 621.0,477.9 623.0,477.8 625.0,477.8 627.0,477.8 629.0,477.9 631.0,477.8 633.0,477.8 635.0,478.0 637.0,478.1 639.0,478.1 641.0,478.0 643.0,478.0 645.0,478.0 647.0,478.0 649.0,478.0 651.0,477.9 653.0,477.9 655.0,477.9 657.0,477.9 659.0,477.9 661.0,477.9 663.0,478.0 665.0,478.0 667.0,478.0 669.0,478.0 671.0,478.0 673.0,477.9 675.0,477.8 677.0,477.8 679.0,477.9 681.0,477.9" fill="none" stroke="#000" stroke-width="1.5" stroke-linejoin="round" stroke-linecap="round"/>
<path d="M610.2,589.5H660.3V527.4" fill="none" stroke="#000" stroke-width="1.7"/>
<text x="12" y="20" font-size="24.6" font-weight="bold" >a</text>
<text x="389.5" y="20" font-size="24.6" font-weight="bold" >b</text>
<text x="12.8" y="363.3" font-size="24.6" font-weight="bold" >c</text>
<text x="389" y="363.4" font-size="24.6" font-weight="bold" >d</text>
<text x="317.2" y="27.1" font-size="20.4" font-weight="normal" >9ms</text>
<text x="317.6" y="310.7" font-size="20.4" font-weight="normal" >0ms</text>
<text x="320.6" y="352.6" font-size="20.4" font-weight="normal" >4ms</text>
<text x="319.3" y="635.5" font-size="20.4" font-weight="normal" >0ms</text>
<text x="611.2" y="246" font-size="20.4" font-weight="normal" >2ms</text>
<text x="605.3" y="610.6" font-size="20.4" font-weight="normal" >100ms</text>
<text font-size="20.4" transform="translate(664.7,224.7) rotate(-90)">2µV</text>
<text font-size="20.4" transform="translate(681,589) rotate(-90)">0.5mV</text>
</svg>
</body></html>
